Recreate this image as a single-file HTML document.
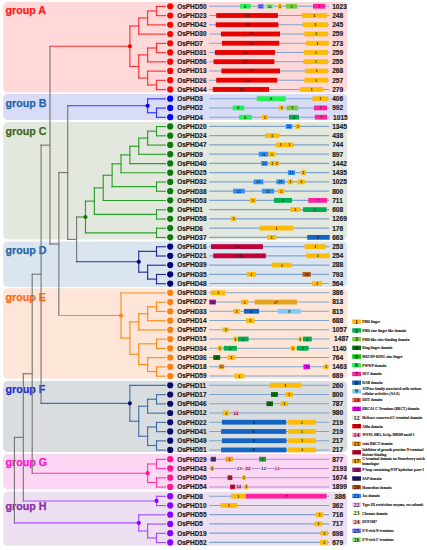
<!DOCTYPE html><html><head><meta charset="utf-8"><style>html,body{margin:0;padding:0;background:#fff;width:427px;height:550px;overflow:hidden}svg{display:block}</style></head><body>
<svg width="427" height="550" viewBox="0 0 427 550">
<rect x="0" y="0" width="427" height="550" fill="#ffffff"/>
<rect x="3.2" y="2.1" width="344.0" height="90.5" rx="4.5" ry="4.5" fill="#ffd9d9"/>
<rect x="3.2" y="93.9" width="344.0" height="26.0" rx="4.5" ry="4.5" fill="#d9dcf7"/>
<rect x="3.2" y="122.1" width="344.0" height="117.4" rx="4.5" ry="4.5" fill="#e3e8df"/>
<rect x="3.2" y="241.4" width="344.0" height="45.5" rx="4.5" ry="4.5" fill="#dbe5f0"/>
<rect x="3.2" y="288.3" width="344.0" height="90.5" rx="4.5" ry="4.5" fill="#fde6d8"/>
<rect x="3.2" y="380.9" width="344.0" height="71.0" rx="4.5" ry="4.5" fill="#d9dde0"/>
<rect x="3.2" y="453.9" width="344.0" height="35.4" rx="4.5" ry="4.5" fill="#fcd7f4"/>
<rect x="3.2" y="491.8" width="344.0" height="54.0" rx="4.5" ry="4.5" fill="#ecdff0"/>
<text x="5.5" y="14.0" font-family="Liberation Sans" font-weight="bold" font-size="10.7" fill="#ff1a1a" stroke="#ff1a1a" stroke-width="0.25">group A</text>
<text x="5.5" y="106.8" font-family="Liberation Sans" font-weight="bold" font-size="10.7" fill="#2464a8" stroke="#2464a8" stroke-width="0.25">group B</text>
<text x="5.5" y="134.7" font-family="Liberation Sans" font-weight="bold" font-size="10.7" fill="#3d6b1f" stroke="#3d6b1f" stroke-width="0.25">group C</text>
<text x="5.5" y="253.7" font-family="Liberation Sans" font-weight="bold" font-size="10.7" fill="#1f68a8" stroke="#1f68a8" stroke-width="0.25">group D</text>
<text x="5.5" y="301.0" font-family="Liberation Sans" font-weight="bold" font-size="10.7" fill="#ff6a14" stroke="#ff6a14" stroke-width="0.25">group E</text>
<text x="5.5" y="393.2" font-family="Liberation Sans" font-weight="bold" font-size="10.7" fill="#1f2fd0" stroke="#1f2fd0" stroke-width="0.25">group F</text>
<text x="5.5" y="466.0" font-family="Liberation Sans" font-weight="bold" font-size="10.7" fill="#ff14cc" stroke="#ff14cc" stroke-width="0.25">group G</text>
<text x="5.5" y="509.8" font-family="Liberation Sans" font-weight="bold" font-size="10.7" fill="#8a2ba6" stroke="#8a2ba6" stroke-width="0.25">group H</text>
<line x1="209.2" y1="6.25" x2="329.2" y2="6.25" stroke="#7fa3cc" stroke-width="1.1"/>
<line x1="209.2" y1="15.49" x2="329.2" y2="15.49" stroke="#7fa3cc" stroke-width="1.1"/>
<line x1="209.2" y1="24.74" x2="329.2" y2="24.74" stroke="#7fa3cc" stroke-width="1.1"/>
<line x1="209.2" y1="33.98" x2="329.2" y2="33.98" stroke="#7fa3cc" stroke-width="1.1"/>
<line x1="209.2" y1="43.23" x2="329.2" y2="43.23" stroke="#7fa3cc" stroke-width="1.1"/>
<line x1="209.2" y1="52.47" x2="329.2" y2="52.47" stroke="#7fa3cc" stroke-width="1.1"/>
<line x1="209.2" y1="61.71" x2="329.2" y2="61.71" stroke="#7fa3cc" stroke-width="1.1"/>
<line x1="209.2" y1="70.96" x2="329.2" y2="70.96" stroke="#7fa3cc" stroke-width="1.1"/>
<line x1="209.2" y1="80.20" x2="329.2" y2="80.20" stroke="#7fa3cc" stroke-width="1.1"/>
<line x1="209.2" y1="89.45" x2="329.2" y2="89.45" stroke="#7fa3cc" stroke-width="1.1"/>
<line x1="209.2" y1="98.69" x2="329.2" y2="98.69" stroke="#7fa3cc" stroke-width="1.1"/>
<line x1="209.2" y1="107.93" x2="329.2" y2="107.93" stroke="#7fa3cc" stroke-width="1.1"/>
<line x1="209.2" y1="117.18" x2="329.2" y2="117.18" stroke="#7fa3cc" stroke-width="1.1"/>
<line x1="209.2" y1="126.42" x2="329.2" y2="126.42" stroke="#7fa3cc" stroke-width="1.1"/>
<line x1="209.2" y1="135.67" x2="329.2" y2="135.67" stroke="#7fa3cc" stroke-width="1.1"/>
<line x1="209.2" y1="144.91" x2="329.2" y2="144.91" stroke="#7fa3cc" stroke-width="1.1"/>
<line x1="209.2" y1="154.15" x2="329.2" y2="154.15" stroke="#7fa3cc" stroke-width="1.1"/>
<line x1="209.2" y1="163.40" x2="329.2" y2="163.40" stroke="#7fa3cc" stroke-width="1.1"/>
<line x1="209.2" y1="172.64" x2="329.2" y2="172.64" stroke="#7fa3cc" stroke-width="1.1"/>
<line x1="209.2" y1="181.89" x2="329.2" y2="181.89" stroke="#7fa3cc" stroke-width="1.1"/>
<line x1="209.2" y1="191.13" x2="329.2" y2="191.13" stroke="#7fa3cc" stroke-width="1.1"/>
<line x1="209.2" y1="200.37" x2="329.2" y2="200.37" stroke="#7fa3cc" stroke-width="1.1"/>
<line x1="209.2" y1="209.62" x2="329.2" y2="209.62" stroke="#7fa3cc" stroke-width="1.1"/>
<line x1="209.2" y1="218.86" x2="329.2" y2="218.86" stroke="#7fa3cc" stroke-width="1.1"/>
<line x1="209.2" y1="228.11" x2="329.2" y2="228.11" stroke="#7fa3cc" stroke-width="1.1"/>
<line x1="209.2" y1="237.35" x2="329.2" y2="237.35" stroke="#7fa3cc" stroke-width="1.1"/>
<line x1="209.2" y1="246.59" x2="329.2" y2="246.59" stroke="#7fa3cc" stroke-width="1.1"/>
<line x1="209.2" y1="255.84" x2="329.2" y2="255.84" stroke="#7fa3cc" stroke-width="1.1"/>
<line x1="209.2" y1="265.08" x2="329.2" y2="265.08" stroke="#7fa3cc" stroke-width="1.1"/>
<line x1="209.2" y1="274.33" x2="329.2" y2="274.33" stroke="#7fa3cc" stroke-width="1.1"/>
<line x1="209.2" y1="283.57" x2="329.2" y2="283.57" stroke="#7fa3cc" stroke-width="1.1"/>
<line x1="209.2" y1="292.81" x2="329.2" y2="292.81" stroke="#7fa3cc" stroke-width="1.1"/>
<line x1="209.2" y1="302.06" x2="329.2" y2="302.06" stroke="#7fa3cc" stroke-width="1.1"/>
<line x1="209.2" y1="311.30" x2="329.2" y2="311.30" stroke="#7fa3cc" stroke-width="1.1"/>
<line x1="209.2" y1="320.55" x2="329.2" y2="320.55" stroke="#7fa3cc" stroke-width="1.1"/>
<line x1="209.2" y1="329.79" x2="329.2" y2="329.79" stroke="#7fa3cc" stroke-width="1.1"/>
<line x1="209.2" y1="339.03" x2="329.2" y2="339.03" stroke="#7fa3cc" stroke-width="1.1"/>
<line x1="209.2" y1="348.28" x2="329.2" y2="348.28" stroke="#7fa3cc" stroke-width="1.1"/>
<line x1="209.2" y1="357.52" x2="329.2" y2="357.52" stroke="#7fa3cc" stroke-width="1.1"/>
<line x1="209.2" y1="366.77" x2="329.2" y2="366.77" stroke="#7fa3cc" stroke-width="1.1"/>
<line x1="209.2" y1="376.01" x2="329.2" y2="376.01" stroke="#7fa3cc" stroke-width="1.1"/>
<line x1="209.2" y1="385.25" x2="329.2" y2="385.25" stroke="#7fa3cc" stroke-width="1.1"/>
<line x1="209.2" y1="394.50" x2="329.2" y2="394.50" stroke="#7fa3cc" stroke-width="1.1"/>
<line x1="209.2" y1="403.74" x2="329.2" y2="403.74" stroke="#7fa3cc" stroke-width="1.1"/>
<line x1="209.2" y1="412.99" x2="329.2" y2="412.99" stroke="#7fa3cc" stroke-width="1.1"/>
<line x1="209.2" y1="422.23" x2="329.2" y2="422.23" stroke="#7fa3cc" stroke-width="1.1"/>
<line x1="209.2" y1="431.47" x2="329.2" y2="431.47" stroke="#7fa3cc" stroke-width="1.1"/>
<line x1="209.2" y1="440.72" x2="329.2" y2="440.72" stroke="#7fa3cc" stroke-width="1.1"/>
<line x1="209.2" y1="449.96" x2="329.2" y2="449.96" stroke="#7fa3cc" stroke-width="1.1"/>
<line x1="209.2" y1="459.21" x2="329.2" y2="459.21" stroke="#b48fd8" stroke-width="1.1"/>
<line x1="209.2" y1="468.45" x2="329.2" y2="468.45" stroke="#b48fd8" stroke-width="1.1"/>
<line x1="209.2" y1="477.69" x2="329.2" y2="477.69" stroke="#b48fd8" stroke-width="1.1"/>
<line x1="209.2" y1="486.94" x2="329.2" y2="486.94" stroke="#b48fd8" stroke-width="1.1"/>
<line x1="209.2" y1="496.18" x2="329.2" y2="496.18" stroke="#7fa3cc" stroke-width="1.1"/>
<line x1="209.2" y1="505.43" x2="329.2" y2="505.43" stroke="#7fa3cc" stroke-width="1.1"/>
<line x1="209.2" y1="514.67" x2="329.2" y2="514.67" stroke="#7fa3cc" stroke-width="1.1"/>
<line x1="209.2" y1="523.91" x2="329.2" y2="523.91" stroke="#7fa3cc" stroke-width="1.1"/>
<line x1="209.2" y1="533.16" x2="329.2" y2="533.16" stroke="#7fa3cc" stroke-width="1.1"/>
<line x1="209.2" y1="542.40" x2="329.2" y2="542.40" stroke="#7fa3cc" stroke-width="1.1"/>
<rect x="240.1" y="3.85" width="10.7" height="4.8" fill="#22f055"/>
<text x="245.4" y="7.76" font-family="Liberation Serif" font-weight="bold" font-size="4.2" text-anchor="middle" fill="#222">6</text>
<rect x="257.7" y="3.85" width="6.1" height="4.8" fill="#8080ff"/>
<text x="260.8" y="7.76" font-family="Liberation Serif" font-weight="bold" font-size="4.2" text-anchor="middle" fill="#222">25</text>
<rect x="265.5" y="3.85" width="8.1" height="4.8" fill="#90ee90"/>
<text x="269.6" y="7.76" font-family="Liberation Serif" font-weight="bold" font-size="4.2" text-anchor="middle" fill="#222">26</text>
<rect x="277.9" y="3.85" width="4.1" height="4.8" fill="#ffbb00"/>
<text x="279.9" y="7.76" font-family="Liberation Serif" font-weight="bold" font-size="4.2" text-anchor="middle" fill="#222">1</text>
<rect x="285.8" y="3.85" width="11.4" height="4.8" fill="#77cc3a"/>
<text x="291.5" y="7.76" font-family="Liberation Serif" font-weight="bold" font-size="4.2" text-anchor="middle" fill="#222">3</text>
<rect x="313.0" y="3.85" width="12.3" height="4.8" fill="#ff22a0"/>
<text x="319.1" y="7.76" font-family="Liberation Serif" font-weight="bold" font-size="4.2" text-anchor="middle" fill="#222">7</text>
<rect x="216.2" y="13.09" width="61.7" height="4.8" fill="#e60000"/>
<text x="247.0" y="17.01" font-family="Liberation Serif" font-weight="bold" font-size="4.2" text-anchor="middle" fill="#222">13</text>
<rect x="301.6" y="13.09" width="25.5" height="4.8" fill="#ffbb00"/>
<text x="314.4" y="17.01" font-family="Liberation Serif" font-weight="bold" font-size="4.2" text-anchor="middle" fill="#222">1</text>
<rect x="215.7" y="22.34" width="62.7" height="4.8" fill="#e60000"/>
<text x="247.0" y="26.25" font-family="Liberation Serif" font-weight="bold" font-size="4.2" text-anchor="middle" fill="#222">13</text>
<rect x="302.7" y="22.34" width="25.2" height="4.8" fill="#ffbb00"/>
<text x="315.3" y="26.25" font-family="Liberation Serif" font-weight="bold" font-size="4.2" text-anchor="middle" fill="#222">1</text>
<rect x="220.9" y="31.58" width="59.1" height="4.8" fill="#e60000"/>
<text x="250.4" y="35.49" font-family="Liberation Serif" font-weight="bold" font-size="4.2" text-anchor="middle" fill="#222">13</text>
<rect x="304.3" y="31.58" width="23.7" height="4.8" fill="#ffbb00"/>
<text x="316.1" y="35.49" font-family="Liberation Serif" font-weight="bold" font-size="4.2" text-anchor="middle" fill="#222">1</text>
<rect x="221.9" y="40.83" width="57.4" height="4.8" fill="#e60000"/>
<text x="250.6" y="44.74" font-family="Liberation Serif" font-weight="bold" font-size="4.2" text-anchor="middle" fill="#222">13</text>
<rect x="306.0" y="40.83" width="22.7" height="4.8" fill="#ffbb00"/>
<text x="317.4" y="44.74" font-family="Liberation Serif" font-weight="bold" font-size="4.2" text-anchor="middle" fill="#222">1</text>
<rect x="214.9" y="50.07" width="60.0" height="4.8" fill="#e60000"/>
<text x="244.9" y="53.98" font-family="Liberation Serif" font-weight="bold" font-size="4.2" text-anchor="middle" fill="#222">13</text>
<rect x="303.9" y="50.07" width="24.1" height="4.8" fill="#ffbb00"/>
<text x="315.9" y="53.98" font-family="Liberation Serif" font-weight="bold" font-size="4.2" text-anchor="middle" fill="#222">1</text>
<rect x="213.6" y="59.31" width="60.8" height="4.8" fill="#e60000"/>
<text x="244.0" y="63.23" font-family="Liberation Serif" font-weight="bold" font-size="4.2" text-anchor="middle" fill="#222">13</text>
<rect x="303.4" y="59.31" width="24.6" height="4.8" fill="#ffbb00"/>
<text x="315.7" y="63.23" font-family="Liberation Serif" font-weight="bold" font-size="4.2" text-anchor="middle" fill="#222">1</text>
<rect x="221.4" y="68.56" width="58.6" height="4.8" fill="#e60000"/>
<text x="250.7" y="72.47" font-family="Liberation Serif" font-weight="bold" font-size="4.2" text-anchor="middle" fill="#222">13</text>
<rect x="305.0" y="68.56" width="23.0" height="4.8" fill="#ffbb00"/>
<text x="316.5" y="72.47" font-family="Liberation Serif" font-weight="bold" font-size="4.2" text-anchor="middle" fill="#222">1</text>
<rect x="216.2" y="77.80" width="61.0" height="4.8" fill="#e60000"/>
<text x="246.7" y="81.71" font-family="Liberation Serif" font-weight="bold" font-size="4.2" text-anchor="middle" fill="#222">13</text>
<rect x="304.3" y="77.80" width="23.7" height="4.8" fill="#ffbb00"/>
<text x="316.1" y="81.71" font-family="Liberation Serif" font-weight="bold" font-size="4.2" text-anchor="middle" fill="#222">1</text>
<rect x="212.8" y="87.05" width="56.2" height="4.8" fill="#e60000"/>
<text x="240.9" y="90.96" font-family="Liberation Serif" font-weight="bold" font-size="4.2" text-anchor="middle" fill="#222">13</text>
<rect x="300.2" y="87.05" width="22.8" height="4.8" fill="#ffbb00"/>
<text x="311.6" y="90.96" font-family="Liberation Serif" font-weight="bold" font-size="4.2" text-anchor="middle" fill="#222">1</text>
<rect x="256.8" y="96.29" width="29.0" height="4.8" fill="#22f055"/>
<text x="271.3" y="100.20" font-family="Liberation Serif" font-weight="bold" font-size="4.2" text-anchor="middle" fill="#222">6</text>
<rect x="312.5" y="96.29" width="15.8" height="4.8" fill="#ffbb00"/>
<text x="320.4" y="100.20" font-family="Liberation Serif" font-weight="bold" font-size="4.2" text-anchor="middle" fill="#222">1</text>
<rect x="232.7" y="105.53" width="11.5" height="4.8" fill="#22f055"/>
<text x="238.4" y="109.45" font-family="Liberation Serif" font-weight="bold" font-size="4.2" text-anchor="middle" fill="#222">6</text>
<rect x="278.8" y="105.53" width="5.3" height="4.8" fill="#ffbb00"/>
<text x="281.5" y="109.45" font-family="Liberation Serif" font-weight="bold" font-size="4.2" text-anchor="middle" fill="#222">1</text>
<rect x="286.7" y="105.53" width="11.4" height="4.8" fill="#77cc3a"/>
<text x="292.4" y="109.45" font-family="Liberation Serif" font-weight="bold" font-size="4.2" text-anchor="middle" fill="#222">3</text>
<rect x="313.9" y="105.53" width="13.2" height="4.8" fill="#ff22a0"/>
<text x="320.5" y="109.45" font-family="Liberation Serif" font-weight="bold" font-size="4.2" text-anchor="middle" fill="#222">7</text>
<rect x="239.2" y="114.78" width="12.5" height="4.8" fill="#22f055"/>
<text x="245.4" y="118.69" font-family="Liberation Serif" font-weight="bold" font-size="4.2" text-anchor="middle" fill="#222">6</text>
<rect x="262.0" y="114.78" width="5.6" height="4.8" fill="#ffbb00"/>
<text x="264.8" y="118.69" font-family="Liberation Serif" font-weight="bold" font-size="4.2" text-anchor="middle" fill="#222">1</text>
<rect x="289.0" y="114.78" width="10.0" height="4.8" fill="#00b050"/>
<text x="294.0" y="118.69" font-family="Liberation Serif" font-weight="bold" font-size="4.2" text-anchor="middle" fill="#222">2</text>
<rect x="314.8" y="114.78" width="12.3" height="4.8" fill="#ff22a0"/>
<text x="321.0" y="118.69" font-family="Liberation Serif" font-weight="bold" font-size="4.2" text-anchor="middle" fill="#222">7</text>
<rect x="285.8" y="124.02" width="6.4" height="4.8" fill="#3090ff"/>
<text x="289.0" y="127.93" font-family="Liberation Serif" font-weight="bold" font-size="4.2" text-anchor="middle" fill="#222">21</text>
<rect x="295.7" y="124.02" width="4.5" height="4.8" fill="#ffbb00"/>
<text x="297.9" y="127.93" font-family="Liberation Serif" font-weight="bold" font-size="4.2" text-anchor="middle" fill="#222">1</text>
<rect x="265.0" y="133.27" width="14.2" height="4.8" fill="#ffbb00"/>
<text x="272.1" y="137.18" font-family="Liberation Serif" font-weight="bold" font-size="4.2" text-anchor="middle" fill="#222">1</text>
<rect x="276.0" y="142.51" width="9.0" height="4.8" fill="#ffbb00"/>
<text x="280.5" y="146.42" font-family="Liberation Serif" font-weight="bold" font-size="4.2" text-anchor="middle" fill="#222">1</text>
<rect x="285.0" y="142.51" width="8.6" height="4.8" fill="#ffbb00"/>
<text x="289.3" y="146.42" font-family="Liberation Serif" font-weight="bold" font-size="4.2" text-anchor="middle" fill="#222">1</text>
<rect x="258.7" y="151.75" width="9.6" height="4.8" fill="#3090ff"/>
<text x="263.5" y="155.67" font-family="Liberation Serif" font-weight="bold" font-size="4.2" text-anchor="middle" fill="#222">21</text>
<rect x="268.3" y="151.75" width="7.0" height="4.8" fill="#ffbb00"/>
<text x="271.8" y="155.67" font-family="Liberation Serif" font-weight="bold" font-size="4.2" text-anchor="middle" fill="#222">1</text>
<rect x="261.2" y="161.00" width="6.6" height="4.8" fill="#3090ff"/>
<text x="264.5" y="164.91" font-family="Liberation Serif" font-weight="bold" font-size="4.2" text-anchor="middle" fill="#222">21</text>
<rect x="270.1" y="161.00" width="4.5" height="4.8" fill="#ffbb00"/>
<text x="272.4" y="164.91" font-family="Liberation Serif" font-weight="bold" font-size="4.2" text-anchor="middle" fill="#222">1</text>
<rect x="274.6" y="161.00" width="4.5" height="4.8" fill="#ffbb00"/>
<text x="276.9" y="164.91" font-family="Liberation Serif" font-weight="bold" font-size="4.2" text-anchor="middle" fill="#222">1</text>
<rect x="287.9" y="170.24" width="7.1" height="4.8" fill="#3090ff"/>
<text x="291.4" y="174.15" font-family="Liberation Serif" font-weight="bold" font-size="4.2" text-anchor="middle" fill="#222">21</text>
<rect x="301.0" y="170.24" width="4.8" height="4.8" fill="#ffbb00"/>
<text x="303.4" y="174.15" font-family="Liberation Serif" font-weight="bold" font-size="4.2" text-anchor="middle" fill="#222">1</text>
<rect x="253.5" y="179.49" width="9.8" height="4.8" fill="#3090ff"/>
<text x="258.4" y="183.40" font-family="Liberation Serif" font-weight="bold" font-size="4.2" text-anchor="middle" fill="#222">21</text>
<rect x="276.4" y="179.49" width="8.4" height="4.8" fill="#3090ff"/>
<text x="280.6" y="183.40" font-family="Liberation Serif" font-weight="bold" font-size="4.2" text-anchor="middle" fill="#222">21</text>
<rect x="287.7" y="179.49" width="5.2" height="4.8" fill="#ffbb00"/>
<text x="290.3" y="183.40" font-family="Liberation Serif" font-weight="bold" font-size="4.2" text-anchor="middle" fill="#222">1</text>
<rect x="297.8" y="179.49" width="7.0" height="4.8" fill="#ffbb00"/>
<text x="301.3" y="183.40" font-family="Liberation Serif" font-weight="bold" font-size="4.2" text-anchor="middle" fill="#222">1</text>
<rect x="233.0" y="188.73" width="11.8" height="4.8" fill="#3090ff"/>
<text x="238.9" y="192.64" font-family="Liberation Serif" font-weight="bold" font-size="4.2" text-anchor="middle" fill="#222">21</text>
<rect x="262.0" y="188.73" width="12.1" height="4.8" fill="#3090ff"/>
<text x="268.1" y="192.64" font-family="Liberation Serif" font-weight="bold" font-size="4.2" text-anchor="middle" fill="#222">21</text>
<rect x="277.9" y="188.73" width="6.5" height="4.8" fill="#ffbb00"/>
<text x="281.1" y="192.64" font-family="Liberation Serif" font-weight="bold" font-size="4.2" text-anchor="middle" fill="#222">1</text>
<rect x="249.9" y="197.97" width="6.1" height="4.8" fill="#ffbb00"/>
<text x="252.9" y="201.89" font-family="Liberation Serif" font-weight="bold" font-size="4.2" text-anchor="middle" fill="#222">1</text>
<rect x="273.9" y="197.97" width="18.1" height="4.8" fill="#00b050"/>
<text x="282.9" y="201.89" font-family="Liberation Serif" font-weight="bold" font-size="4.2" text-anchor="middle" fill="#222">2</text>
<rect x="308.3" y="197.97" width="18.8" height="4.8" fill="#ff22a0"/>
<text x="317.7" y="201.89" font-family="Liberation Serif" font-weight="bold" font-size="4.2" text-anchor="middle" fill="#222">7</text>
<rect x="290.2" y="207.22" width="10.0" height="4.8" fill="#ffbb00"/>
<text x="295.2" y="211.13" font-family="Liberation Serif" font-weight="bold" font-size="4.2" text-anchor="middle" fill="#222">1</text>
<rect x="303.0" y="207.22" width="23.6" height="4.8" fill="#00b050"/>
<text x="314.8" y="211.13" font-family="Liberation Serif" font-weight="bold" font-size="4.2" text-anchor="middle" fill="#222">2</text>
<rect x="230.9" y="216.46" width="5.2" height="4.8" fill="#ffbb00"/>
<text x="233.5" y="220.37" font-family="Liberation Serif" font-weight="bold" font-size="4.2" text-anchor="middle" fill="#222">1</text>
<rect x="259.4" y="225.71" width="34.0" height="4.8" fill="#ffbb00"/>
<text x="276.4" y="229.62" font-family="Liberation Serif" font-weight="bold" font-size="4.2" text-anchor="middle" fill="#222">1</text>
<rect x="267.2" y="234.95" width="8.9" height="4.8" fill="#ffbb00"/>
<text x="271.6" y="238.86" font-family="Liberation Serif" font-weight="bold" font-size="4.2" text-anchor="middle" fill="#222">1</text>
<rect x="307.2" y="234.95" width="22.5" height="4.8" fill="#1464c4"/>
<text x="318.4" y="238.86" font-family="Liberation Serif" font-weight="bold" font-size="4.2" text-anchor="middle" fill="#222">8</text>
<rect x="211.0" y="244.19" width="51.9" height="4.8" fill="#c0003a"/>
<text x="236.9" y="248.11" font-family="Liberation Serif" font-weight="bold" font-size="4.2" text-anchor="middle" fill="#222">16</text>
<rect x="304.6" y="244.19" width="21.3" height="4.8" fill="#ffbb00"/>
<text x="315.2" y="248.11" font-family="Liberation Serif" font-weight="bold" font-size="4.2" text-anchor="middle" fill="#222">1</text>
<rect x="213.3" y="253.44" width="52.5" height="4.8" fill="#c0003a"/>
<text x="239.6" y="257.35" font-family="Liberation Serif" font-weight="bold" font-size="4.2" text-anchor="middle" fill="#222">16</text>
<rect x="306.0" y="253.44" width="23.7" height="4.8" fill="#ffbb00"/>
<text x="317.9" y="257.35" font-family="Liberation Serif" font-weight="bold" font-size="4.2" text-anchor="middle" fill="#222">1</text>
<rect x="272.0" y="262.68" width="19.4" height="4.8" fill="#ffbb00"/>
<text x="281.7" y="266.59" font-family="Liberation Serif" font-weight="bold" font-size="4.2" text-anchor="middle" fill="#222">1</text>
<rect x="246.8" y="271.93" width="9.2" height="4.8" fill="#ffbb00"/>
<text x="251.4" y="275.84" font-family="Liberation Serif" font-weight="bold" font-size="4.2" text-anchor="middle" fill="#222">1</text>
<rect x="302.5" y="271.93" width="8.4" height="4.8" fill="#b86020"/>
<text x="306.7" y="275.84" font-family="Liberation Serif" font-weight="bold" font-size="4.2" text-anchor="middle" fill="#222">20</text>
<rect x="311.8" y="281.17" width="10.4" height="4.8" fill="#ffbb00"/>
<text x="317.0" y="285.08" font-family="Liberation Serif" font-weight="bold" font-size="4.2" text-anchor="middle" fill="#222">1</text>
<rect x="211.0" y="290.41" width="14.2" height="4.8" fill="#ffbb00"/>
<text x="218.1" y="294.33" font-family="Liberation Serif" font-weight="bold" font-size="4.2" text-anchor="middle" fill="#222">1</text>
<rect x="209.3" y="299.66" width="6.6" height="4.8" fill="#981a98"/>
<text x="212.6" y="303.57" font-family="Liberation Serif" font-weight="bold" font-size="4.2" text-anchor="middle" fill="#222">18</text>
<rect x="241.0" y="299.66" width="7.2" height="4.8" fill="#ffbb00"/>
<text x="244.6" y="303.57" font-family="Liberation Serif" font-weight="bold" font-size="4.2" text-anchor="middle" fill="#222">1</text>
<rect x="254.6" y="299.66" width="42.3" height="4.8" fill="#e4a420"/>
<text x="275.8" y="303.57" font-family="Liberation Serif" font-weight="bold" font-size="4.2" text-anchor="middle" fill="#222">17</text>
<rect x="233.2" y="308.90" width="6.9" height="4.8" fill="#ffbb00"/>
<text x="236.6" y="312.81" font-family="Liberation Serif" font-weight="bold" font-size="4.2" text-anchor="middle" fill="#222">1</text>
<rect x="243.9" y="308.90" width="15.2" height="4.8" fill="#1464c4"/>
<text x="251.5" y="312.81" font-family="Liberation Serif" font-weight="bold" font-size="4.2" text-anchor="middle" fill="#222">8</text>
<rect x="277.9" y="308.90" width="22.8" height="4.8" fill="#84c8f6"/>
<text x="289.3" y="312.81" font-family="Liberation Serif" font-weight="bold" font-size="4.2" text-anchor="middle" fill="#222">9</text>
<rect x="246.0" y="318.15" width="8.6" height="4.8" fill="#ffbb00"/>
<text x="250.3" y="322.06" font-family="Liberation Serif" font-weight="bold" font-size="4.2" text-anchor="middle" fill="#222">1</text>
<rect x="222.8" y="327.39" width="5.9" height="4.8" fill="#ffbb00"/>
<text x="225.8" y="331.30" font-family="Liberation Serif" font-weight="bold" font-size="4.2" text-anchor="middle" fill="#222">1</text>
<rect x="233.7" y="336.63" width="3.2" height="4.8" fill="#ffbb00"/>
<text x="235.3" y="340.55" font-family="Liberation Serif" font-weight="bold" font-size="4.2" text-anchor="middle" fill="#222">1</text>
<rect x="237.8" y="336.63" width="10.8" height="4.8" fill="#00b050"/>
<text x="243.2" y="340.55" font-family="Liberation Serif" font-weight="bold" font-size="4.2" text-anchor="middle" fill="#222">2</text>
<rect x="298.6" y="336.63" width="3.0" height="4.8" fill="#ffbb00"/>
<text x="300.1" y="340.55" font-family="Liberation Serif" font-weight="bold" font-size="4.2" text-anchor="middle" fill="#222">1</text>
<rect x="303.0" y="336.63" width="8.8" height="4.8" fill="#00b050"/>
<text x="307.4" y="340.55" font-family="Liberation Serif" font-weight="bold" font-size="4.2" text-anchor="middle" fill="#222">2</text>
<rect x="217.9" y="345.88" width="4.1" height="4.8" fill="#ffbb00"/>
<text x="219.9" y="349.79" font-family="Liberation Serif" font-weight="bold" font-size="4.2" text-anchor="middle" fill="#222">1</text>
<rect x="223.7" y="345.88" width="13.2" height="4.8" fill="#00b050"/>
<text x="230.3" y="349.79" font-family="Liberation Serif" font-weight="bold" font-size="4.2" text-anchor="middle" fill="#222">2</text>
<rect x="290.7" y="345.88" width="4.4" height="4.8" fill="#ffbb00"/>
<text x="292.9" y="349.79" font-family="Liberation Serif" font-weight="bold" font-size="4.2" text-anchor="middle" fill="#222">1</text>
<rect x="296.9" y="345.88" width="11.7" height="4.8" fill="#00b050"/>
<text x="302.8" y="349.79" font-family="Liberation Serif" font-weight="bold" font-size="4.2" text-anchor="middle" fill="#222">2</text>
<rect x="213.2" y="355.12" width="7.0" height="4.8" fill="#046e04"/>
<text x="216.7" y="359.03" font-family="Liberation Serif" font-weight="bold" font-size="4.2" text-anchor="middle" fill="#222">4</text>
<rect x="227.5" y="355.12" width="7.7" height="4.8" fill="#ffbb00"/>
<text x="231.3" y="359.03" font-family="Liberation Serif" font-weight="bold" font-size="4.2" text-anchor="middle" fill="#222">1</text>
<rect x="218.8" y="364.37" width="5.5" height="4.8" fill="#f0a020"/>
<text x="221.6" y="368.28" font-family="Liberation Serif" font-weight="bold" font-size="4.2" text-anchor="middle" fill="#222">15</text>
<rect x="303.4" y="364.37" width="6.6" height="4.8" fill="#f000f0"/>
<text x="306.7" y="368.28" font-family="Liberation Serif" font-weight="bold" font-size="4.2" text-anchor="middle" fill="#222">11</text>
<rect x="323.6" y="364.37" width="4.7" height="4.8" fill="#ffbb00"/>
<text x="326.0" y="368.28" font-family="Liberation Serif" font-weight="bold" font-size="4.2" text-anchor="middle" fill="#222">1</text>
<rect x="234.4" y="373.61" width="10.0" height="4.8" fill="#ffbb00"/>
<text x="239.4" y="377.52" font-family="Liberation Serif" font-weight="bold" font-size="4.2" text-anchor="middle" fill="#222">1</text>
<rect x="269.3" y="382.85" width="31.8" height="4.8" fill="#ffbb00"/>
<text x="285.2" y="386.77" font-family="Liberation Serif" font-weight="bold" font-size="4.2" text-anchor="middle" fill="#222">1</text>
<rect x="271.0" y="392.10" width="6.9" height="4.8" fill="#046e04"/>
<text x="274.4" y="396.01" font-family="Liberation Serif" font-weight="bold" font-size="4.2" text-anchor="middle" fill="#222">4</text>
<rect x="285.3" y="392.10" width="7.5" height="4.8" fill="#ffbb00"/>
<text x="289.1" y="396.01" font-family="Liberation Serif" font-weight="bold" font-size="4.2" text-anchor="middle" fill="#222">1</text>
<rect x="266.4" y="401.34" width="6.6" height="4.8" fill="#046e04"/>
<text x="269.7" y="405.25" font-family="Liberation Serif" font-weight="bold" font-size="4.2" text-anchor="middle" fill="#222">4</text>
<rect x="280.5" y="401.34" width="7.6" height="4.8" fill="#ffbb00"/>
<text x="284.3" y="405.25" font-family="Liberation Serif" font-weight="bold" font-size="4.2" text-anchor="middle" fill="#222">1</text>
<rect x="222.8" y="410.59" width="6.4" height="4.8" fill="#ffbb00"/>
<text x="226.0" y="414.50" font-family="Liberation Serif" font-weight="bold" font-size="4.2" text-anchor="middle" fill="#222">1</text>
<rect x="232.7" y="410.59" width="6.0" height="4.8" fill="#f6a0d8"/>
<text x="235.7" y="414.50" font-family="Liberation Serif" font-weight="bold" font-size="4.2" text-anchor="middle" fill="#222">14</text>
<rect x="221.9" y="419.83" width="64.3" height="4.8" fill="#1464c4"/>
<text x="254.1" y="423.74" font-family="Liberation Serif" font-weight="bold" font-size="4.2" text-anchor="middle" fill="#222">8</text>
<rect x="288.1" y="419.83" width="27.6" height="4.8" fill="#ffbb00"/>
<text x="301.9" y="423.74" font-family="Liberation Serif" font-weight="bold" font-size="4.2" text-anchor="middle" fill="#222">1</text>
<rect x="221.1" y="429.07" width="65.1" height="4.8" fill="#1464c4"/>
<text x="253.6" y="432.99" font-family="Liberation Serif" font-weight="bold" font-size="4.2" text-anchor="middle" fill="#222">8</text>
<rect x="288.1" y="429.07" width="27.6" height="4.8" fill="#ffbb00"/>
<text x="301.9" y="432.99" font-family="Liberation Serif" font-weight="bold" font-size="4.2" text-anchor="middle" fill="#222">1</text>
<rect x="221.9" y="438.32" width="64.6" height="4.8" fill="#1464c4"/>
<text x="254.2" y="442.23" font-family="Liberation Serif" font-weight="bold" font-size="4.2" text-anchor="middle" fill="#222">8</text>
<rect x="288.1" y="438.32" width="27.9" height="4.8" fill="#ffbb00"/>
<text x="302.1" y="442.23" font-family="Liberation Serif" font-weight="bold" font-size="4.2" text-anchor="middle" fill="#222">1</text>
<rect x="221.1" y="447.56" width="65.4" height="4.8" fill="#1464c4"/>
<text x="253.8" y="451.47" font-family="Liberation Serif" font-weight="bold" font-size="4.2" text-anchor="middle" fill="#222">8</text>
<rect x="288.1" y="447.56" width="27.9" height="4.8" fill="#ffbb00"/>
<text x="302.1" y="451.47" font-family="Liberation Serif" font-weight="bold" font-size="4.2" text-anchor="middle" fill="#222">1</text>
<rect x="210.7" y="456.81" width="5.2" height="4.8" fill="#4a3494"/>
<text x="213.3" y="460.72" font-family="Liberation Serif" font-weight="bold" font-size="4.2" text-anchor="middle" fill="#222">19</text>
<rect x="225.4" y="456.81" width="7.6" height="4.8" fill="#f5a21c"/>
<text x="229.2" y="460.72" font-family="Liberation Serif" font-weight="bold" font-size="4.2" text-anchor="middle" fill="#222">1</text>
<rect x="259.1" y="456.81" width="6.9" height="4.8" fill="#18a030"/>
<text x="262.6" y="460.72" font-family="Liberation Serif" font-weight="bold" font-size="4.2" text-anchor="middle" fill="#222">5</text>
<rect x="210.7" y="466.05" width="2.9" height="4.8" fill="#f5a21c"/>
<text x="212.1" y="469.96" font-family="Liberation Serif" font-weight="bold" font-size="4.2" text-anchor="middle" fill="#222">1</text>
<rect x="236.5" y="466.05" width="5.5" height="4.8" fill="#fde0f0"/>
<text x="239.2" y="470.25" font-family="Liberation Serif" font-weight="bold" font-size="5.0" text-anchor="middle" fill="#222">23</text>
<rect x="243.9" y="466.05" width="7.8" height="4.8" fill="#f6c2ee"/>
<text x="247.8" y="470.25" font-family="Liberation Serif" font-weight="bold" font-size="5.0" text-anchor="middle" fill="#222">22</text>
<rect x="260.3" y="466.05" width="6.1" height="4.8" fill="#e4e2f6"/>
<text x="263.4" y="470.25" font-family="Liberation Serif" font-weight="bold" font-size="5.0" text-anchor="middle" fill="#222">12</text>
<rect x="274.4" y="466.05" width="5.3" height="4.8" fill="#fcc8e4"/>
<text x="277.0" y="470.25" font-family="Liberation Serif" font-weight="bold" font-size="5.0" text-anchor="middle" fill="#c03030">24</text>
<rect x="227.5" y="475.29" width="4.8" height="4.8" fill="#cc1a4a"/>
<text x="229.9" y="479.21" font-family="Liberation Serif" font-weight="bold" font-size="4.2" text-anchor="middle" fill="#222">16</text>
<rect x="242.2" y="475.29" width="3.4" height="4.8" fill="#ffbb00"/>
<text x="243.9" y="479.21" font-family="Liberation Serif" font-weight="bold" font-size="4.2" text-anchor="middle" fill="#222">1</text>
<rect x="230.0" y="484.54" width="5.2" height="4.8" fill="#cc1a4a"/>
<text x="232.6" y="488.45" font-family="Liberation Serif" font-weight="bold" font-size="4.2" text-anchor="middle" fill="#222">16</text>
<rect x="236.1" y="484.54" width="5.2" height="4.8" fill="#f6a0d8"/>
<text x="238.7" y="488.45" font-family="Liberation Serif" font-weight="bold" font-size="4.2" text-anchor="middle" fill="#222">14</text>
<rect x="244.4" y="484.54" width="3.5" height="4.8" fill="#ffbb00"/>
<text x="246.2" y="488.45" font-family="Liberation Serif" font-weight="bold" font-size="4.2" text-anchor="middle" fill="#222">1</text>
<rect x="230.9" y="493.78" width="15.1" height="4.8" fill="#ffbb00"/>
<text x="238.4" y="497.69" font-family="Liberation Serif" font-weight="bold" font-size="4.2" text-anchor="middle" fill="#222">1</text>
<rect x="246.0" y="493.78" width="80.6" height="4.8" fill="#ff22a0"/>
<text x="286.3" y="497.69" font-family="Liberation Serif" font-weight="bold" font-size="4.2" text-anchor="middle" fill="#222">7</text>
<rect x="220.6" y="503.03" width="16.7" height="4.8" fill="#ffbb00"/>
<text x="228.9" y="506.94" font-family="Liberation Serif" font-weight="bold" font-size="4.2" text-anchor="middle" fill="#222">1</text>
<rect x="316.0" y="512.27" width="7.0" height="4.8" fill="#ffbb00"/>
<text x="319.5" y="516.18" font-family="Liberation Serif" font-weight="bold" font-size="4.2" text-anchor="middle" fill="#222">1</text>
<rect x="314.4" y="521.51" width="7.9" height="4.8" fill="#ffbb00"/>
<text x="318.4" y="525.43" font-family="Liberation Serif" font-weight="bold" font-size="4.2" text-anchor="middle" fill="#222">1</text>
<rect x="320.4" y="530.76" width="7.6" height="4.8" fill="#ffbb00"/>
<text x="324.2" y="534.67" font-family="Liberation Serif" font-weight="bold" font-size="4.2" text-anchor="middle" fill="#222">1</text>
<rect x="320.0" y="540.00" width="8.0" height="4.8" fill="#ffbb00"/>
<text x="324.0" y="543.91" font-family="Liberation Serif" font-weight="bold" font-size="4.2" text-anchor="middle" fill="#222">1</text>
<g stroke-linecap="square">
<line x1="156.52" y1="6.40" x2="156.52" y2="15.64" stroke="#ff3030" stroke-width="1.15"/>
<line x1="156.52" y1="6.40" x2="165.40" y2="6.40" stroke="#ff3030" stroke-width="1.15"/>
<line x1="156.52" y1="15.64" x2="165.40" y2="15.64" stroke="#ff3030" stroke-width="1.15"/>
<line x1="147.64" y1="11.02" x2="147.64" y2="24.89" stroke="#ff3030" stroke-width="1.15"/>
<line x1="147.64" y1="11.02" x2="156.52" y2="11.02" stroke="#ff3030" stroke-width="1.15"/>
<line x1="147.64" y1="24.89" x2="165.40" y2="24.89" stroke="#ff3030" stroke-width="1.15"/>
<line x1="138.76" y1="17.95" x2="138.76" y2="34.13" stroke="#ff3030" stroke-width="1.15"/>
<line x1="138.76" y1="17.95" x2="147.64" y2="17.95" stroke="#ff3030" stroke-width="1.15"/>
<line x1="138.76" y1="34.13" x2="165.40" y2="34.13" stroke="#ff3030" stroke-width="1.15"/>
<line x1="156.52" y1="43.38" x2="156.52" y2="52.62" stroke="#ff3030" stroke-width="1.15"/>
<line x1="156.52" y1="43.38" x2="165.40" y2="43.38" stroke="#ff3030" stroke-width="1.15"/>
<line x1="156.52" y1="52.62" x2="165.40" y2="52.62" stroke="#ff3030" stroke-width="1.15"/>
<line x1="147.64" y1="48.00" x2="147.64" y2="61.86" stroke="#ff3030" stroke-width="1.15"/>
<line x1="147.64" y1="48.00" x2="156.52" y2="48.00" stroke="#ff3030" stroke-width="1.15"/>
<line x1="147.64" y1="61.86" x2="165.40" y2="61.86" stroke="#ff3030" stroke-width="1.15"/>
<line x1="156.52" y1="80.35" x2="156.52" y2="89.60" stroke="#ff3030" stroke-width="1.15"/>
<line x1="156.52" y1="80.35" x2="165.40" y2="80.35" stroke="#ff3030" stroke-width="1.15"/>
<line x1="156.52" y1="89.60" x2="165.40" y2="89.60" stroke="#ff3030" stroke-width="1.15"/>
<line x1="147.64" y1="71.11" x2="147.64" y2="84.97" stroke="#ff3030" stroke-width="1.15"/>
<line x1="147.64" y1="71.11" x2="165.40" y2="71.11" stroke="#ff3030" stroke-width="1.15"/>
<line x1="147.64" y1="84.97" x2="156.52" y2="84.97" stroke="#ff3030" stroke-width="1.15"/>
<line x1="138.76" y1="54.93" x2="138.76" y2="78.04" stroke="#ff3030" stroke-width="1.15"/>
<line x1="138.76" y1="54.93" x2="147.64" y2="54.93" stroke="#ff3030" stroke-width="1.15"/>
<line x1="138.76" y1="78.04" x2="147.64" y2="78.04" stroke="#ff3030" stroke-width="1.15"/>
<line x1="129.88" y1="26.04" x2="129.88" y2="66.49" stroke="#ff3030" stroke-width="1.15"/>
<line x1="129.88" y1="26.04" x2="138.76" y2="26.04" stroke="#ff3030" stroke-width="1.15"/>
<line x1="129.88" y1="66.49" x2="138.76" y2="66.49" stroke="#ff3030" stroke-width="1.15"/>
<line x1="156.52" y1="108.08" x2="156.52" y2="117.33" stroke="#3333ff" stroke-width="1.15"/>
<line x1="156.52" y1="108.08" x2="165.40" y2="108.08" stroke="#3333ff" stroke-width="1.15"/>
<line x1="156.52" y1="117.33" x2="165.40" y2="117.33" stroke="#3333ff" stroke-width="1.15"/>
<line x1="147.64" y1="98.84" x2="147.64" y2="112.71" stroke="#3333ff" stroke-width="1.15"/>
<line x1="147.64" y1="98.84" x2="165.40" y2="98.84" stroke="#3333ff" stroke-width="1.15"/>
<line x1="147.64" y1="112.71" x2="156.52" y2="112.71" stroke="#3333ff" stroke-width="1.15"/>
<line x1="156.52" y1="126.57" x2="156.52" y2="135.82" stroke="#2ca02c" stroke-width="1.15"/>
<line x1="156.52" y1="126.57" x2="165.40" y2="126.57" stroke="#2ca02c" stroke-width="1.15"/>
<line x1="156.52" y1="135.82" x2="165.40" y2="135.82" stroke="#2ca02c" stroke-width="1.15"/>
<line x1="147.64" y1="131.19" x2="147.64" y2="145.06" stroke="#2ca02c" stroke-width="1.15"/>
<line x1="147.64" y1="131.19" x2="156.52" y2="131.19" stroke="#2ca02c" stroke-width="1.15"/>
<line x1="147.64" y1="145.06" x2="165.40" y2="145.06" stroke="#2ca02c" stroke-width="1.15"/>
<line x1="138.76" y1="138.13" x2="138.76" y2="154.30" stroke="#2ca02c" stroke-width="1.15"/>
<line x1="138.76" y1="138.13" x2="147.64" y2="138.13" stroke="#2ca02c" stroke-width="1.15"/>
<line x1="138.76" y1="154.30" x2="165.40" y2="154.30" stroke="#2ca02c" stroke-width="1.15"/>
<line x1="129.88" y1="146.22" x2="129.88" y2="163.55" stroke="#2ca02c" stroke-width="1.15"/>
<line x1="129.88" y1="146.22" x2="138.76" y2="146.22" stroke="#2ca02c" stroke-width="1.15"/>
<line x1="129.88" y1="163.55" x2="165.40" y2="163.55" stroke="#2ca02c" stroke-width="1.15"/>
<line x1="121.00" y1="154.88" x2="121.00" y2="172.79" stroke="#2ca02c" stroke-width="1.15"/>
<line x1="121.00" y1="154.88" x2="129.88" y2="154.88" stroke="#2ca02c" stroke-width="1.15"/>
<line x1="121.00" y1="172.79" x2="165.40" y2="172.79" stroke="#2ca02c" stroke-width="1.15"/>
<line x1="156.52" y1="182.04" x2="156.52" y2="191.28" stroke="#2ca02c" stroke-width="1.15"/>
<line x1="156.52" y1="182.04" x2="165.40" y2="182.04" stroke="#2ca02c" stroke-width="1.15"/>
<line x1="156.52" y1="191.28" x2="165.40" y2="191.28" stroke="#2ca02c" stroke-width="1.15"/>
<line x1="112.12" y1="163.84" x2="112.12" y2="186.66" stroke="#2ca02c" stroke-width="1.15"/>
<line x1="112.12" y1="163.84" x2="121.00" y2="163.84" stroke="#2ca02c" stroke-width="1.15"/>
<line x1="112.12" y1="186.66" x2="156.52" y2="186.66" stroke="#2ca02c" stroke-width="1.15"/>
<line x1="103.24" y1="175.25" x2="103.24" y2="200.52" stroke="#2ca02c" stroke-width="1.15"/>
<line x1="103.24" y1="175.25" x2="112.12" y2="175.25" stroke="#2ca02c" stroke-width="1.15"/>
<line x1="103.24" y1="200.52" x2="165.40" y2="200.52" stroke="#2ca02c" stroke-width="1.15"/>
<line x1="156.52" y1="209.77" x2="156.52" y2="219.01" stroke="#2ca02c" stroke-width="1.15"/>
<line x1="156.52" y1="209.77" x2="165.40" y2="209.77" stroke="#2ca02c" stroke-width="1.15"/>
<line x1="156.52" y1="219.01" x2="165.40" y2="219.01" stroke="#2ca02c" stroke-width="1.15"/>
<line x1="94.36" y1="187.89" x2="94.36" y2="214.39" stroke="#2ca02c" stroke-width="1.15"/>
<line x1="94.36" y1="187.89" x2="103.24" y2="187.89" stroke="#2ca02c" stroke-width="1.15"/>
<line x1="94.36" y1="214.39" x2="156.52" y2="214.39" stroke="#2ca02c" stroke-width="1.15"/>
<line x1="156.52" y1="228.26" x2="156.52" y2="237.50" stroke="#2ca02c" stroke-width="1.15"/>
<line x1="156.52" y1="228.26" x2="165.40" y2="228.26" stroke="#2ca02c" stroke-width="1.15"/>
<line x1="156.52" y1="237.50" x2="165.40" y2="237.50" stroke="#2ca02c" stroke-width="1.15"/>
<line x1="85.48" y1="201.14" x2="85.48" y2="232.88" stroke="#2ca02c" stroke-width="1.15"/>
<line x1="85.48" y1="201.14" x2="94.36" y2="201.14" stroke="#2ca02c" stroke-width="1.15"/>
<line x1="85.48" y1="232.88" x2="156.52" y2="232.88" stroke="#2ca02c" stroke-width="1.15"/>
<line x1="156.52" y1="246.74" x2="156.52" y2="255.99" stroke="#2e2ea0" stroke-width="1.15"/>
<line x1="156.52" y1="246.74" x2="165.40" y2="246.74" stroke="#2e2ea0" stroke-width="1.15"/>
<line x1="156.52" y1="255.99" x2="165.40" y2="255.99" stroke="#2e2ea0" stroke-width="1.15"/>
<line x1="156.52" y1="274.48" x2="156.52" y2="283.72" stroke="#2e2ea0" stroke-width="1.15"/>
<line x1="156.52" y1="274.48" x2="165.40" y2="274.48" stroke="#2e2ea0" stroke-width="1.15"/>
<line x1="156.52" y1="283.72" x2="165.40" y2="283.72" stroke="#2e2ea0" stroke-width="1.15"/>
<line x1="147.64" y1="265.23" x2="147.64" y2="279.10" stroke="#2e2ea0" stroke-width="1.15"/>
<line x1="147.64" y1="265.23" x2="165.40" y2="265.23" stroke="#2e2ea0" stroke-width="1.15"/>
<line x1="147.64" y1="279.10" x2="156.52" y2="279.10" stroke="#2e2ea0" stroke-width="1.15"/>
<line x1="138.76" y1="251.37" x2="138.76" y2="272.16" stroke="#2e2ea0" stroke-width="1.15"/>
<line x1="138.76" y1="251.37" x2="156.52" y2="251.37" stroke="#2e2ea0" stroke-width="1.15"/>
<line x1="138.76" y1="272.16" x2="147.64" y2="272.16" stroke="#2e2ea0" stroke-width="1.15"/>
<line x1="156.52" y1="302.21" x2="156.52" y2="311.45" stroke="#ff8c1a" stroke-width="1.15"/>
<line x1="156.52" y1="302.21" x2="165.40" y2="302.21" stroke="#ff8c1a" stroke-width="1.15"/>
<line x1="156.52" y1="311.45" x2="165.40" y2="311.45" stroke="#ff8c1a" stroke-width="1.15"/>
<line x1="147.64" y1="306.83" x2="147.64" y2="320.70" stroke="#ff8c1a" stroke-width="1.15"/>
<line x1="147.64" y1="306.83" x2="156.52" y2="306.83" stroke="#ff8c1a" stroke-width="1.15"/>
<line x1="147.64" y1="320.70" x2="165.40" y2="320.70" stroke="#ff8c1a" stroke-width="1.15"/>
<line x1="138.76" y1="313.76" x2="138.76" y2="329.94" stroke="#ff8c1a" stroke-width="1.15"/>
<line x1="138.76" y1="313.76" x2="147.64" y2="313.76" stroke="#ff8c1a" stroke-width="1.15"/>
<line x1="138.76" y1="329.94" x2="165.40" y2="329.94" stroke="#ff8c1a" stroke-width="1.15"/>
<line x1="156.52" y1="339.18" x2="156.52" y2="348.43" stroke="#ff8c1a" stroke-width="1.15"/>
<line x1="156.52" y1="339.18" x2="165.40" y2="339.18" stroke="#ff8c1a" stroke-width="1.15"/>
<line x1="156.52" y1="348.43" x2="165.40" y2="348.43" stroke="#ff8c1a" stroke-width="1.15"/>
<line x1="156.52" y1="366.92" x2="156.52" y2="376.16" stroke="#ff8c1a" stroke-width="1.15"/>
<line x1="156.52" y1="366.92" x2="165.40" y2="366.92" stroke="#ff8c1a" stroke-width="1.15"/>
<line x1="156.52" y1="376.16" x2="165.40" y2="376.16" stroke="#ff8c1a" stroke-width="1.15"/>
<line x1="147.64" y1="357.67" x2="147.64" y2="371.54" stroke="#ff8c1a" stroke-width="1.15"/>
<line x1="147.64" y1="357.67" x2="165.40" y2="357.67" stroke="#ff8c1a" stroke-width="1.15"/>
<line x1="147.64" y1="371.54" x2="156.52" y2="371.54" stroke="#ff8c1a" stroke-width="1.15"/>
<line x1="138.76" y1="343.81" x2="138.76" y2="364.60" stroke="#ff8c1a" stroke-width="1.15"/>
<line x1="138.76" y1="343.81" x2="156.52" y2="343.81" stroke="#ff8c1a" stroke-width="1.15"/>
<line x1="138.76" y1="364.60" x2="147.64" y2="364.60" stroke="#ff8c1a" stroke-width="1.15"/>
<line x1="129.88" y1="321.85" x2="129.88" y2="354.21" stroke="#ff8c1a" stroke-width="1.15"/>
<line x1="129.88" y1="321.85" x2="138.76" y2="321.85" stroke="#ff8c1a" stroke-width="1.15"/>
<line x1="129.88" y1="354.21" x2="138.76" y2="354.21" stroke="#ff8c1a" stroke-width="1.15"/>
<line x1="121.00" y1="292.96" x2="121.00" y2="338.03" stroke="#ff8c1a" stroke-width="1.15"/>
<line x1="121.00" y1="292.96" x2="165.40" y2="292.96" stroke="#ff8c1a" stroke-width="1.15"/>
<line x1="121.00" y1="338.03" x2="129.88" y2="338.03" stroke="#ff8c1a" stroke-width="1.15"/>
<line x1="156.52" y1="394.65" x2="156.52" y2="403.89" stroke="#3f72aa" stroke-width="1.15"/>
<line x1="156.52" y1="394.65" x2="165.40" y2="394.65" stroke="#3f72aa" stroke-width="1.15"/>
<line x1="156.52" y1="403.89" x2="165.40" y2="403.89" stroke="#3f72aa" stroke-width="1.15"/>
<line x1="147.64" y1="399.27" x2="147.64" y2="413.14" stroke="#3f72aa" stroke-width="1.15"/>
<line x1="147.64" y1="399.27" x2="156.52" y2="399.27" stroke="#3f72aa" stroke-width="1.15"/>
<line x1="147.64" y1="413.14" x2="165.40" y2="413.14" stroke="#3f72aa" stroke-width="1.15"/>
<line x1="156.52" y1="422.38" x2="156.52" y2="431.62" stroke="#3f72aa" stroke-width="1.15"/>
<line x1="156.52" y1="422.38" x2="165.40" y2="422.38" stroke="#3f72aa" stroke-width="1.15"/>
<line x1="156.52" y1="431.62" x2="165.40" y2="431.62" stroke="#3f72aa" stroke-width="1.15"/>
<line x1="156.52" y1="440.87" x2="156.52" y2="450.11" stroke="#3f72aa" stroke-width="1.15"/>
<line x1="156.52" y1="440.87" x2="165.40" y2="440.87" stroke="#3f72aa" stroke-width="1.15"/>
<line x1="156.52" y1="450.11" x2="165.40" y2="450.11" stroke="#3f72aa" stroke-width="1.15"/>
<line x1="147.64" y1="427.00" x2="147.64" y2="445.49" stroke="#3f72aa" stroke-width="1.15"/>
<line x1="147.64" y1="427.00" x2="156.52" y2="427.00" stroke="#3f72aa" stroke-width="1.15"/>
<line x1="147.64" y1="445.49" x2="156.52" y2="445.49" stroke="#3f72aa" stroke-width="1.15"/>
<line x1="138.76" y1="406.20" x2="138.76" y2="436.25" stroke="#3f72aa" stroke-width="1.15"/>
<line x1="138.76" y1="406.20" x2="147.64" y2="406.20" stroke="#3f72aa" stroke-width="1.15"/>
<line x1="138.76" y1="436.25" x2="147.64" y2="436.25" stroke="#3f72aa" stroke-width="1.15"/>
<line x1="129.88" y1="385.40" x2="129.88" y2="421.22" stroke="#3f72aa" stroke-width="1.15"/>
<line x1="129.88" y1="385.40" x2="165.40" y2="385.40" stroke="#3f72aa" stroke-width="1.15"/>
<line x1="129.88" y1="421.22" x2="138.76" y2="421.22" stroke="#3f72aa" stroke-width="1.15"/>
<line x1="156.52" y1="459.36" x2="156.52" y2="468.60" stroke="#ff3aa6" stroke-width="1.15"/>
<line x1="156.52" y1="459.36" x2="165.40" y2="459.36" stroke="#ff3aa6" stroke-width="1.15"/>
<line x1="156.52" y1="468.60" x2="165.40" y2="468.60" stroke="#ff3aa6" stroke-width="1.15"/>
<line x1="156.52" y1="477.84" x2="156.52" y2="487.09" stroke="#ff3aa6" stroke-width="1.15"/>
<line x1="156.52" y1="477.84" x2="165.40" y2="477.84" stroke="#ff3aa6" stroke-width="1.15"/>
<line x1="156.52" y1="487.09" x2="165.40" y2="487.09" stroke="#ff3aa6" stroke-width="1.15"/>
<line x1="147.64" y1="463.98" x2="147.64" y2="482.47" stroke="#ff3aa6" stroke-width="1.15"/>
<line x1="147.64" y1="463.98" x2="156.52" y2="463.98" stroke="#ff3aa6" stroke-width="1.15"/>
<line x1="147.64" y1="482.47" x2="156.52" y2="482.47" stroke="#ff3aa6" stroke-width="1.15"/>
<line x1="156.52" y1="496.33" x2="156.52" y2="505.58" stroke="#a64dff" stroke-width="1.15"/>
<line x1="156.52" y1="496.33" x2="165.40" y2="496.33" stroke="#a64dff" stroke-width="1.15"/>
<line x1="156.52" y1="505.58" x2="165.40" y2="505.58" stroke="#a64dff" stroke-width="1.15"/>
<line x1="156.52" y1="533.31" x2="156.52" y2="542.55" stroke="#a64dff" stroke-width="1.15"/>
<line x1="156.52" y1="533.31" x2="165.40" y2="533.31" stroke="#a64dff" stroke-width="1.15"/>
<line x1="156.52" y1="542.55" x2="165.40" y2="542.55" stroke="#a64dff" stroke-width="1.15"/>
<line x1="147.64" y1="524.06" x2="147.64" y2="537.93" stroke="#a64dff" stroke-width="1.15"/>
<line x1="147.64" y1="524.06" x2="165.40" y2="524.06" stroke="#a64dff" stroke-width="1.15"/>
<line x1="147.64" y1="537.93" x2="156.52" y2="537.93" stroke="#a64dff" stroke-width="1.15"/>
<line x1="138.76" y1="514.82" x2="138.76" y2="531.00" stroke="#a64dff" stroke-width="1.15"/>
<line x1="138.76" y1="514.82" x2="165.40" y2="514.82" stroke="#a64dff" stroke-width="1.15"/>
<line x1="138.76" y1="531.00" x2="147.64" y2="531.00" stroke="#a64dff" stroke-width="1.15"/>
<line x1="76.60" y1="217.01" x2="76.60" y2="261.77" stroke="#787878" stroke-width="1.15"/>
<line x1="76.60" y1="217.01" x2="85.48" y2="217.01" stroke="#2ca02c" stroke-width="1.15"/>
<line x1="76.60" y1="261.77" x2="138.76" y2="261.77" stroke="#2e2ea0" stroke-width="1.15"/>
<line x1="67.72" y1="105.77" x2="67.72" y2="239.39" stroke="#787878" stroke-width="1.15"/>
<line x1="67.72" y1="105.77" x2="147.64" y2="105.77" stroke="#3333ff" stroke-width="1.15"/>
<line x1="67.72" y1="239.39" x2="76.60" y2="239.39" stroke="#787878" stroke-width="1.15"/>
<line x1="58.84" y1="172.58" x2="58.84" y2="315.50" stroke="#787878" stroke-width="1.15"/>
<line x1="58.84" y1="172.58" x2="67.72" y2="172.58" stroke="#787878" stroke-width="1.15"/>
<line x1="58.84" y1="315.50" x2="121.00" y2="315.50" stroke="#ff8c1a" stroke-width="1.15"/>
<line x1="49.96" y1="46.26" x2="49.96" y2="244.04" stroke="#787878" stroke-width="1.15"/>
<line x1="49.96" y1="46.26" x2="129.88" y2="46.26" stroke="#ff3030" stroke-width="1.15"/>
<line x1="49.96" y1="244.04" x2="58.84" y2="244.04" stroke="#787878" stroke-width="1.15"/>
<line x1="41.08" y1="145.15" x2="41.08" y2="403.31" stroke="#787878" stroke-width="1.15"/>
<line x1="41.08" y1="145.15" x2="49.96" y2="145.15" stroke="#787878" stroke-width="1.15"/>
<line x1="41.08" y1="403.31" x2="129.88" y2="403.31" stroke="#3f72aa" stroke-width="1.15"/>
<line x1="32.20" y1="274.23" x2="32.20" y2="473.22" stroke="#787878" stroke-width="1.15"/>
<line x1="32.20" y1="274.23" x2="41.08" y2="274.23" stroke="#787878" stroke-width="1.15"/>
<line x1="32.20" y1="473.22" x2="147.64" y2="473.22" stroke="#ff3aa6" stroke-width="1.15"/>
<line x1="23.32" y1="373.73" x2="23.32" y2="500.95" stroke="#787878" stroke-width="1.15"/>
<line x1="23.32" y1="373.73" x2="32.20" y2="373.73" stroke="#787878" stroke-width="1.15"/>
<line x1="23.32" y1="500.95" x2="156.52" y2="500.95" stroke="#a64dff" stroke-width="1.15"/>
<line x1="14.44" y1="437.34" x2="14.44" y2="522.91" stroke="#787878" stroke-width="1.15"/>
<line x1="14.44" y1="437.34" x2="23.32" y2="437.34" stroke="#787878" stroke-width="1.15"/>
<line x1="14.44" y1="522.91" x2="138.76" y2="522.91" stroke="#a64dff" stroke-width="1.15"/>
</g>
<circle cx="129.88" cy="46.26" r="2.1" fill="#ff0000"/>
<circle cx="147.64" cy="105.77" r="2.1" fill="#0000ff"/>
<circle cx="85.48" cy="217.01" r="2.1" fill="#0a7a0a"/>
<circle cx="138.76" cy="261.77" r="2.1" fill="#000080"/>
<circle cx="121.00" cy="315.50" r="2.1" fill="#ff7f0e"/>
<circle cx="129.88" cy="403.31" r="2.1" fill="#0a0a6e"/>
<circle cx="147.64" cy="473.22" r="2.1" fill="#ff1493"/>
<circle cx="156.52" cy="500.95" r="2.1" fill="#8b00ff"/>
<circle cx="138.76" cy="522.91" r="2.1" fill="#8b00ff"/>
<circle cx="170.2" cy="6.25" r="3.1" fill="#ff0000"/>
<circle cx="170.2" cy="15.49" r="3.1" fill="#ff0000"/>
<circle cx="170.2" cy="24.74" r="3.1" fill="#ff0000"/>
<circle cx="170.2" cy="33.98" r="3.1" fill="#ff0000"/>
<circle cx="170.2" cy="43.23" r="3.1" fill="#ff0000"/>
<circle cx="170.2" cy="52.47" r="3.1" fill="#ff0000"/>
<circle cx="170.2" cy="61.71" r="3.1" fill="#ff0000"/>
<circle cx="170.2" cy="70.96" r="3.1" fill="#ff0000"/>
<circle cx="170.2" cy="80.20" r="3.1" fill="#ff0000"/>
<circle cx="170.2" cy="89.45" r="3.1" fill="#ff0000"/>
<circle cx="170.2" cy="98.69" r="3.1" fill="#0000ff"/>
<circle cx="170.2" cy="107.93" r="3.1" fill="#0000ff"/>
<circle cx="170.2" cy="117.18" r="3.1" fill="#0000ff"/>
<circle cx="170.2" cy="126.42" r="3.1" fill="#0a7a0a"/>
<circle cx="170.2" cy="135.67" r="3.1" fill="#0a7a0a"/>
<circle cx="170.2" cy="144.91" r="3.1" fill="#0a7a0a"/>
<circle cx="170.2" cy="154.15" r="3.1" fill="#0a7a0a"/>
<circle cx="170.2" cy="163.40" r="3.1" fill="#0a7a0a"/>
<circle cx="170.2" cy="172.64" r="3.1" fill="#0a7a0a"/>
<circle cx="170.2" cy="181.89" r="3.1" fill="#0a7a0a"/>
<circle cx="170.2" cy="191.13" r="3.1" fill="#0a7a0a"/>
<circle cx="170.2" cy="200.37" r="3.1" fill="#0a7a0a"/>
<circle cx="170.2" cy="209.62" r="3.1" fill="#0a7a0a"/>
<circle cx="170.2" cy="218.86" r="3.1" fill="#0a7a0a"/>
<circle cx="170.2" cy="228.11" r="3.1" fill="#0a7a0a"/>
<circle cx="170.2" cy="237.35" r="3.1" fill="#0a7a0a"/>
<circle cx="170.2" cy="246.59" r="3.1" fill="#000080"/>
<circle cx="170.2" cy="255.84" r="3.1" fill="#000080"/>
<circle cx="170.2" cy="265.08" r="3.1" fill="#000080"/>
<circle cx="170.2" cy="274.33" r="3.1" fill="#000080"/>
<circle cx="170.2" cy="283.57" r="3.1" fill="#000080"/>
<circle cx="170.2" cy="292.81" r="3.1" fill="#ff7f0e"/>
<circle cx="170.2" cy="302.06" r="3.1" fill="#ff7f0e"/>
<circle cx="170.2" cy="311.30" r="3.1" fill="#ff7f0e"/>
<circle cx="170.2" cy="320.55" r="3.1" fill="#ff7f0e"/>
<circle cx="170.2" cy="329.79" r="3.1" fill="#ff7f0e"/>
<circle cx="170.2" cy="339.03" r="3.1" fill="#ff7f0e"/>
<circle cx="170.2" cy="348.28" r="3.1" fill="#ff7f0e"/>
<circle cx="170.2" cy="357.52" r="3.1" fill="#ff7f0e"/>
<circle cx="170.2" cy="366.77" r="3.1" fill="#ff7f0e"/>
<circle cx="170.2" cy="376.01" r="3.1" fill="#ff7f0e"/>
<circle cx="170.2" cy="385.25" r="3.1" fill="#0a0a6e"/>
<circle cx="170.2" cy="394.50" r="3.1" fill="#0a0a6e"/>
<circle cx="170.2" cy="403.74" r="3.1" fill="#0a0a6e"/>
<circle cx="170.2" cy="412.99" r="3.1" fill="#0a0a6e"/>
<circle cx="170.2" cy="422.23" r="3.1" fill="#0a0a6e"/>
<circle cx="170.2" cy="431.47" r="3.1" fill="#0a0a6e"/>
<circle cx="170.2" cy="440.72" r="3.1" fill="#0a0a6e"/>
<circle cx="170.2" cy="449.96" r="3.1" fill="#0a0a6e"/>
<circle cx="170.2" cy="459.21" r="3.1" fill="#ff1493"/>
<circle cx="170.2" cy="468.45" r="3.1" fill="#ff1493"/>
<circle cx="170.2" cy="477.69" r="3.1" fill="#ff1493"/>
<circle cx="170.2" cy="486.94" r="3.1" fill="#ff1493"/>
<circle cx="170.2" cy="496.18" r="3.1" fill="#8b00ff"/>
<circle cx="170.2" cy="505.43" r="3.1" fill="#8b00ff"/>
<circle cx="170.2" cy="514.67" r="3.1" fill="#8b00ff"/>
<circle cx="170.2" cy="523.91" r="3.1" fill="#8b00ff"/>
<circle cx="170.2" cy="533.16" r="3.1" fill="#8b00ff"/>
<circle cx="170.2" cy="542.40" r="3.1" fill="#8b00ff"/>
<text x="177.2" y="8.65" font-family="Liberation Sans" font-weight="bold" font-size="6.45" fill="#1e1e1e" stroke="#1e1e1e" stroke-width="0.18">OsPHD50</text>
<text x="332.2" y="8.65" font-family="Liberation Sans" font-weight="bold" font-size="6.6" fill="#1e1e1e" stroke="#1e1e1e" stroke-width="0.18">1023</text>
<text x="177.2" y="17.89" font-family="Liberation Sans" font-weight="bold" font-size="6.45" fill="#1e1e1e" stroke="#1e1e1e" stroke-width="0.18">OsPHD23</text>
<text x="332.2" y="17.89" font-family="Liberation Sans" font-weight="bold" font-size="6.6" fill="#1e1e1e" stroke="#1e1e1e" stroke-width="0.18">248</text>
<text x="177.2" y="27.14" font-family="Liberation Sans" font-weight="bold" font-size="6.45" fill="#1e1e1e" stroke="#1e1e1e" stroke-width="0.18">OsPHD42</text>
<text x="332.2" y="27.14" font-family="Liberation Sans" font-weight="bold" font-size="6.6" fill="#1e1e1e" stroke="#1e1e1e" stroke-width="0.18">245</text>
<text x="177.2" y="36.38" font-family="Liberation Sans" font-weight="bold" font-size="6.45" fill="#1e1e1e" stroke="#1e1e1e" stroke-width="0.18">OsPHD30</text>
<text x="332.2" y="36.38" font-family="Liberation Sans" font-weight="bold" font-size="6.6" fill="#1e1e1e" stroke="#1e1e1e" stroke-width="0.18">259</text>
<text x="177.2" y="45.63" font-family="Liberation Sans" font-weight="bold" font-size="6.45" fill="#1e1e1e" stroke="#1e1e1e" stroke-width="0.18">OsPHD7</text>
<text x="332.2" y="45.63" font-family="Liberation Sans" font-weight="bold" font-size="6.6" fill="#1e1e1e" stroke="#1e1e1e" stroke-width="0.18">273</text>
<text x="177.2" y="54.87" font-family="Liberation Sans" font-weight="bold" font-size="6.45" fill="#1e1e1e" stroke="#1e1e1e" stroke-width="0.18">OsPHD31</text>
<text x="332.2" y="54.87" font-family="Liberation Sans" font-weight="bold" font-size="6.6" fill="#1e1e1e" stroke="#1e1e1e" stroke-width="0.18">259</text>
<text x="177.2" y="64.11" font-family="Liberation Sans" font-weight="bold" font-size="6.45" fill="#1e1e1e" stroke="#1e1e1e" stroke-width="0.18">OsPHD56</text>
<text x="332.2" y="64.11" font-family="Liberation Sans" font-weight="bold" font-size="6.6" fill="#1e1e1e" stroke="#1e1e1e" stroke-width="0.18">255</text>
<text x="177.2" y="73.36" font-family="Liberation Sans" font-weight="bold" font-size="6.45" fill="#1e1e1e" stroke="#1e1e1e" stroke-width="0.18">OsPHD13</text>
<text x="332.2" y="73.36" font-family="Liberation Sans" font-weight="bold" font-size="6.6" fill="#1e1e1e" stroke="#1e1e1e" stroke-width="0.18">268</text>
<text x="177.2" y="82.60" font-family="Liberation Sans" font-weight="bold" font-size="6.45" fill="#1e1e1e" stroke="#1e1e1e" stroke-width="0.18">OsPHD26</text>
<text x="332.2" y="82.60" font-family="Liberation Sans" font-weight="bold" font-size="6.6" fill="#1e1e1e" stroke="#1e1e1e" stroke-width="0.18">257</text>
<text x="177.2" y="91.85" font-family="Liberation Sans" font-weight="bold" font-size="6.45" fill="#1e1e1e" stroke="#1e1e1e" stroke-width="0.18">OsPHD44</text>
<text x="332.2" y="91.85" font-family="Liberation Sans" font-weight="bold" font-size="6.6" fill="#1e1e1e" stroke="#1e1e1e" stroke-width="0.18">279</text>
<text x="177.2" y="101.09" font-family="Liberation Sans" font-weight="bold" font-size="6.45" fill="#1e1e1e" stroke="#1e1e1e" stroke-width="0.18">OsPHD3</text>
<text x="332.2" y="101.09" font-family="Liberation Sans" font-weight="bold" font-size="6.6" fill="#1e1e1e" stroke="#1e1e1e" stroke-width="0.18">406</text>
<text x="177.2" y="110.33" font-family="Liberation Sans" font-weight="bold" font-size="6.45" fill="#1e1e1e" stroke="#1e1e1e" stroke-width="0.18">OsPHD2</text>
<text x="332.2" y="110.33" font-family="Liberation Sans" font-weight="bold" font-size="6.6" fill="#1e1e1e" stroke="#1e1e1e" stroke-width="0.18">992</text>
<text x="177.2" y="119.58" font-family="Liberation Sans" font-weight="bold" font-size="6.45" fill="#1e1e1e" stroke="#1e1e1e" stroke-width="0.18">OsPHD4</text>
<text x="333.1" y="119.58" font-family="Liberation Sans" font-weight="bold" font-size="6.6" fill="#1e1e1e" stroke="#1e1e1e" stroke-width="0.18">1015</text>
<text x="177.2" y="128.82" font-family="Liberation Sans" font-weight="bold" font-size="6.45" fill="#1e1e1e" stroke="#1e1e1e" stroke-width="0.18">OsPHD20</text>
<text x="332.2" y="128.82" font-family="Liberation Sans" font-weight="bold" font-size="6.6" fill="#1e1e1e" stroke="#1e1e1e" stroke-width="0.18">1345</text>
<text x="177.2" y="138.07" font-family="Liberation Sans" font-weight="bold" font-size="6.45" fill="#1e1e1e" stroke="#1e1e1e" stroke-width="0.18">OsPHD24</text>
<text x="332.2" y="138.07" font-family="Liberation Sans" font-weight="bold" font-size="6.6" fill="#1e1e1e" stroke="#1e1e1e" stroke-width="0.18">438</text>
<text x="177.2" y="147.31" font-family="Liberation Sans" font-weight="bold" font-size="6.45" fill="#1e1e1e" stroke="#1e1e1e" stroke-width="0.18">OsPHD47</text>
<text x="332.2" y="147.31" font-family="Liberation Sans" font-weight="bold" font-size="6.6" fill="#1e1e1e" stroke="#1e1e1e" stroke-width="0.18">744</text>
<text x="177.2" y="156.55" font-family="Liberation Sans" font-weight="bold" font-size="6.45" fill="#1e1e1e" stroke="#1e1e1e" stroke-width="0.18">OsPHD9</text>
<text x="332.2" y="156.55" font-family="Liberation Sans" font-weight="bold" font-size="6.6" fill="#1e1e1e" stroke="#1e1e1e" stroke-width="0.18">897</text>
<text x="177.2" y="165.80" font-family="Liberation Sans" font-weight="bold" font-size="6.45" fill="#1e1e1e" stroke="#1e1e1e" stroke-width="0.18">OsPHD40</text>
<text x="332.2" y="165.80" font-family="Liberation Sans" font-weight="bold" font-size="6.6" fill="#1e1e1e" stroke="#1e1e1e" stroke-width="0.18">1442</text>
<text x="177.2" y="175.04" font-family="Liberation Sans" font-weight="bold" font-size="6.45" fill="#1e1e1e" stroke="#1e1e1e" stroke-width="0.18">OsPHD25</text>
<text x="332.2" y="175.04" font-family="Liberation Sans" font-weight="bold" font-size="6.6" fill="#1e1e1e" stroke="#1e1e1e" stroke-width="0.18">1435</text>
<text x="177.2" y="184.29" font-family="Liberation Sans" font-weight="bold" font-size="6.45" fill="#1e1e1e" stroke="#1e1e1e" stroke-width="0.18">OsPHD32</text>
<text x="332.2" y="184.29" font-family="Liberation Sans" font-weight="bold" font-size="6.6" fill="#1e1e1e" stroke="#1e1e1e" stroke-width="0.18">1025</text>
<text x="177.2" y="193.53" font-family="Liberation Sans" font-weight="bold" font-size="6.45" fill="#1e1e1e" stroke="#1e1e1e" stroke-width="0.18">OsPHD38</text>
<text x="332.2" y="193.53" font-family="Liberation Sans" font-weight="bold" font-size="6.6" fill="#1e1e1e" stroke="#1e1e1e" stroke-width="0.18">800</text>
<text x="177.2" y="202.77" font-family="Liberation Sans" font-weight="bold" font-size="6.45" fill="#1e1e1e" stroke="#1e1e1e" stroke-width="0.18">OsPHD53</text>
<text x="332.2" y="202.77" font-family="Liberation Sans" font-weight="bold" font-size="6.6" fill="#1e1e1e" stroke="#1e1e1e" stroke-width="0.18">711</text>
<text x="177.2" y="212.02" font-family="Liberation Sans" font-weight="bold" font-size="6.45" fill="#1e1e1e" stroke="#1e1e1e" stroke-width="0.18">OsPHD1</text>
<text x="332.2" y="212.02" font-family="Liberation Sans" font-weight="bold" font-size="6.6" fill="#1e1e1e" stroke="#1e1e1e" stroke-width="0.18">608</text>
<text x="177.2" y="221.26" font-family="Liberation Sans" font-weight="bold" font-size="6.45" fill="#1e1e1e" stroke="#1e1e1e" stroke-width="0.18">OsPHD58</text>
<text x="332.2" y="221.26" font-family="Liberation Sans" font-weight="bold" font-size="6.6" fill="#1e1e1e" stroke="#1e1e1e" stroke-width="0.18">1269</text>
<text x="177.2" y="230.51" font-family="Liberation Sans" font-weight="bold" font-size="6.45" fill="#1e1e1e" stroke="#1e1e1e" stroke-width="0.18">OsPHD6</text>
<text x="332.2" y="230.51" font-family="Liberation Sans" font-weight="bold" font-size="6.6" fill="#1e1e1e" stroke="#1e1e1e" stroke-width="0.18">176</text>
<text x="177.2" y="239.75" font-family="Liberation Sans" font-weight="bold" font-size="6.45" fill="#1e1e1e" stroke="#1e1e1e" stroke-width="0.18">OsPHD37</text>
<text x="332.2" y="239.75" font-family="Liberation Sans" font-weight="bold" font-size="6.6" fill="#1e1e1e" stroke="#1e1e1e" stroke-width="0.18">663</text>
<text x="177.2" y="248.99" font-family="Liberation Sans" font-weight="bold" font-size="6.45" fill="#1e1e1e" stroke="#1e1e1e" stroke-width="0.18">OsPHD16</text>
<text x="332.2" y="248.99" font-family="Liberation Sans" font-weight="bold" font-size="6.6" fill="#1e1e1e" stroke="#1e1e1e" stroke-width="0.18">253</text>
<text x="177.2" y="258.24" font-family="Liberation Sans" font-weight="bold" font-size="6.45" fill="#1e1e1e" stroke="#1e1e1e" stroke-width="0.18">OsPHD21</text>
<text x="332.2" y="258.24" font-family="Liberation Sans" font-weight="bold" font-size="6.6" fill="#1e1e1e" stroke="#1e1e1e" stroke-width="0.18">254</text>
<text x="177.2" y="267.48" font-family="Liberation Sans" font-weight="bold" font-size="6.45" fill="#1e1e1e" stroke="#1e1e1e" stroke-width="0.18">OsPHD39</text>
<text x="332.2" y="267.48" font-family="Liberation Sans" font-weight="bold" font-size="6.6" fill="#1e1e1e" stroke="#1e1e1e" stroke-width="0.18">288</text>
<text x="177.2" y="276.73" font-family="Liberation Sans" font-weight="bold" font-size="6.45" fill="#1e1e1e" stroke="#1e1e1e" stroke-width="0.18">OsPHD35</text>
<text x="332.2" y="276.73" font-family="Liberation Sans" font-weight="bold" font-size="6.6" fill="#1e1e1e" stroke="#1e1e1e" stroke-width="0.18">793</text>
<text x="177.2" y="285.97" font-family="Liberation Sans" font-weight="bold" font-size="6.45" fill="#1e1e1e" stroke="#1e1e1e" stroke-width="0.18">OsPHD48</text>
<text x="332.2" y="285.97" font-family="Liberation Sans" font-weight="bold" font-size="6.6" fill="#1e1e1e" stroke="#1e1e1e" stroke-width="0.18">564</text>
<text x="177.2" y="295.21" font-family="Liberation Sans" font-weight="bold" font-size="6.45" fill="#1e1e1e" stroke="#1e1e1e" stroke-width="0.18">OsPHD28</text>
<text x="332.2" y="295.21" font-family="Liberation Sans" font-weight="bold" font-size="6.6" fill="#1e1e1e" stroke="#1e1e1e" stroke-width="0.18">386</text>
<text x="177.2" y="304.46" font-family="Liberation Sans" font-weight="bold" font-size="6.45" fill="#1e1e1e" stroke="#1e1e1e" stroke-width="0.18">OsPHD27</text>
<text x="332.2" y="304.46" font-family="Liberation Sans" font-weight="bold" font-size="6.6" fill="#1e1e1e" stroke="#1e1e1e" stroke-width="0.18">813</text>
<text x="177.2" y="313.70" font-family="Liberation Sans" font-weight="bold" font-size="6.45" fill="#1e1e1e" stroke="#1e1e1e" stroke-width="0.18">OsPHD33</text>
<text x="332.2" y="313.70" font-family="Liberation Sans" font-weight="bold" font-size="6.6" fill="#1e1e1e" stroke="#1e1e1e" stroke-width="0.18">815</text>
<text x="177.2" y="322.95" font-family="Liberation Sans" font-weight="bold" font-size="6.45" fill="#1e1e1e" stroke="#1e1e1e" stroke-width="0.18">OsPHD14</text>
<text x="332.2" y="322.95" font-family="Liberation Sans" font-weight="bold" font-size="6.6" fill="#1e1e1e" stroke="#1e1e1e" stroke-width="0.18">688</text>
<text x="177.2" y="332.19" font-family="Liberation Sans" font-weight="bold" font-size="6.45" fill="#1e1e1e" stroke="#1e1e1e" stroke-width="0.18">OsPHD57</text>
<text x="332.2" y="332.19" font-family="Liberation Sans" font-weight="bold" font-size="6.6" fill="#1e1e1e" stroke="#1e1e1e" stroke-width="0.18">1057</text>
<text x="177.2" y="341.43" font-family="Liberation Sans" font-weight="bold" font-size="6.45" fill="#1e1e1e" stroke="#1e1e1e" stroke-width="0.18">OsPHD15</text>
<text x="334.1" y="341.43" font-family="Liberation Sans" font-weight="bold" font-size="6.6" fill="#1e1e1e" stroke="#1e1e1e" stroke-width="0.18">1487</text>
<text x="177.2" y="350.68" font-family="Liberation Sans" font-weight="bold" font-size="6.45" fill="#1e1e1e" stroke="#1e1e1e" stroke-width="0.18">OsPHD34</text>
<text x="332.2" y="350.68" font-family="Liberation Sans" font-weight="bold" font-size="6.6" fill="#1e1e1e" stroke="#1e1e1e" stroke-width="0.18">1140</text>
<text x="177.2" y="359.92" font-family="Liberation Sans" font-weight="bold" font-size="6.45" fill="#1e1e1e" stroke="#1e1e1e" stroke-width="0.18">OsPHD36</text>
<text x="332.2" y="359.92" font-family="Liberation Sans" font-weight="bold" font-size="6.6" fill="#1e1e1e" stroke="#1e1e1e" stroke-width="0.18">764</text>
<text x="177.2" y="369.17" font-family="Liberation Sans" font-weight="bold" font-size="6.45" fill="#1e1e1e" stroke="#1e1e1e" stroke-width="0.18">OsPHD18</text>
<text x="332.2" y="369.17" font-family="Liberation Sans" font-weight="bold" font-size="6.6" fill="#1e1e1e" stroke="#1e1e1e" stroke-width="0.18">1463</text>
<text x="177.2" y="378.41" font-family="Liberation Sans" font-weight="bold" font-size="6.45" fill="#1e1e1e" stroke="#1e1e1e" stroke-width="0.18">OsPHD59</text>
<text x="332.2" y="378.41" font-family="Liberation Sans" font-weight="bold" font-size="6.6" fill="#1e1e1e" stroke="#1e1e1e" stroke-width="0.18">689</text>
<text x="177.2" y="387.65" font-family="Liberation Sans" font-weight="bold" font-size="6.45" fill="#1e1e1e" stroke="#1e1e1e" stroke-width="0.18">OsPHD11</text>
<text x="332.2" y="387.65" font-family="Liberation Sans" font-weight="bold" font-size="6.6" fill="#1e1e1e" stroke="#1e1e1e" stroke-width="0.18">260</text>
<text x="177.2" y="396.90" font-family="Liberation Sans" font-weight="bold" font-size="6.45" fill="#1e1e1e" stroke="#1e1e1e" stroke-width="0.18">OsPHD17</text>
<text x="332.2" y="396.90" font-family="Liberation Sans" font-weight="bold" font-size="6.6" fill="#1e1e1e" stroke="#1e1e1e" stroke-width="0.18">800</text>
<text x="177.2" y="406.14" font-family="Liberation Sans" font-weight="bold" font-size="6.45" fill="#1e1e1e" stroke="#1e1e1e" stroke-width="0.18">OsPHD46</text>
<text x="332.2" y="406.14" font-family="Liberation Sans" font-weight="bold" font-size="6.6" fill="#1e1e1e" stroke="#1e1e1e" stroke-width="0.18">787</text>
<text x="177.2" y="415.39" font-family="Liberation Sans" font-weight="bold" font-size="6.45" fill="#1e1e1e" stroke="#1e1e1e" stroke-width="0.18">OsPHD12</text>
<text x="332.2" y="415.39" font-family="Liberation Sans" font-weight="bold" font-size="6.6" fill="#1e1e1e" stroke="#1e1e1e" stroke-width="0.18">980</text>
<text x="177.2" y="424.63" font-family="Liberation Sans" font-weight="bold" font-size="6.45" fill="#1e1e1e" stroke="#1e1e1e" stroke-width="0.18">OsPHD22</text>
<text x="332.2" y="424.63" font-family="Liberation Sans" font-weight="bold" font-size="6.6" fill="#1e1e1e" stroke="#1e1e1e" stroke-width="0.18">219</text>
<text x="177.2" y="433.87" font-family="Liberation Sans" font-weight="bold" font-size="6.45" fill="#1e1e1e" stroke="#1e1e1e" stroke-width="0.18">OsPHD41</text>
<text x="332.2" y="433.87" font-family="Liberation Sans" font-weight="bold" font-size="6.6" fill="#1e1e1e" stroke="#1e1e1e" stroke-width="0.18">219</text>
<text x="177.2" y="443.12" font-family="Liberation Sans" font-weight="bold" font-size="6.45" fill="#1e1e1e" stroke="#1e1e1e" stroke-width="0.18">OsPHD49</text>
<text x="332.2" y="443.12" font-family="Liberation Sans" font-weight="bold" font-size="6.6" fill="#1e1e1e" stroke="#1e1e1e" stroke-width="0.18">217</text>
<text x="177.2" y="452.36" font-family="Liberation Sans" font-weight="bold" font-size="6.45" fill="#1e1e1e" stroke="#1e1e1e" stroke-width="0.18">OsPHD51</text>
<text x="332.2" y="452.36" font-family="Liberation Sans" font-weight="bold" font-size="6.6" fill="#1e1e1e" stroke="#1e1e1e" stroke-width="0.18">217</text>
<text x="177.2" y="461.61" font-family="Liberation Sans" font-weight="bold" font-size="6.45" fill="#1e1e1e" stroke="#1e1e1e" stroke-width="0.18">OsPHD29</text>
<text x="332.2" y="461.61" font-family="Liberation Sans" font-weight="bold" font-size="6.6" fill="#1e1e1e" stroke="#1e1e1e" stroke-width="0.18">877</text>
<text x="177.2" y="470.85" font-family="Liberation Sans" font-weight="bold" font-size="6.45" fill="#1e1e1e" stroke="#1e1e1e" stroke-width="0.18">OsPHD43</text>
<text x="332.2" y="470.85" font-family="Liberation Sans" font-weight="bold" font-size="6.6" fill="#1e1e1e" stroke="#1e1e1e" stroke-width="0.18">2193</text>
<text x="177.2" y="480.09" font-family="Liberation Sans" font-weight="bold" font-size="6.45" fill="#1e1e1e" stroke="#1e1e1e" stroke-width="0.18">OsPHD45</text>
<text x="332.2" y="480.09" font-family="Liberation Sans" font-weight="bold" font-size="6.6" fill="#1e1e1e" stroke="#1e1e1e" stroke-width="0.18">1674</text>
<text x="177.2" y="489.34" font-family="Liberation Sans" font-weight="bold" font-size="6.45" fill="#1e1e1e" stroke="#1e1e1e" stroke-width="0.18">OsPHD54</text>
<text x="332.2" y="489.34" font-family="Liberation Sans" font-weight="bold" font-size="6.6" fill="#1e1e1e" stroke="#1e1e1e" stroke-width="0.18">1899</text>
<text x="177.2" y="498.58" font-family="Liberation Sans" font-weight="bold" font-size="6.45" fill="#1e1e1e" stroke="#1e1e1e" stroke-width="0.18">OsPHD8</text>
<text x="334.6" y="498.58" font-family="Liberation Sans" font-weight="bold" font-size="6.6" fill="#1e1e1e" stroke="#1e1e1e" stroke-width="0.18">386</text>
<text x="177.2" y="507.83" font-family="Liberation Sans" font-weight="bold" font-size="6.45" fill="#1e1e1e" stroke="#1e1e1e" stroke-width="0.18">OsPHD10</text>
<text x="332.2" y="507.83" font-family="Liberation Sans" font-weight="bold" font-size="6.6" fill="#1e1e1e" stroke="#1e1e1e" stroke-width="0.18">362</text>
<text x="177.2" y="517.07" font-family="Liberation Sans" font-weight="bold" font-size="6.45" fill="#1e1e1e" stroke="#1e1e1e" stroke-width="0.18">OsPHD55</text>
<text x="332.2" y="517.07" font-family="Liberation Sans" font-weight="bold" font-size="6.6" fill="#1e1e1e" stroke="#1e1e1e" stroke-width="0.18">716</text>
<text x="177.2" y="526.31" font-family="Liberation Sans" font-weight="bold" font-size="6.45" fill="#1e1e1e" stroke="#1e1e1e" stroke-width="0.18">OsPHD5</text>
<text x="332.2" y="526.31" font-family="Liberation Sans" font-weight="bold" font-size="6.6" fill="#1e1e1e" stroke="#1e1e1e" stroke-width="0.18">717</text>
<text x="177.2" y="535.56" font-family="Liberation Sans" font-weight="bold" font-size="6.45" fill="#1e1e1e" stroke="#1e1e1e" stroke-width="0.18">OsPHD19</text>
<text x="332.2" y="535.56" font-family="Liberation Sans" font-weight="bold" font-size="6.6" fill="#1e1e1e" stroke="#1e1e1e" stroke-width="0.18">698</text>
<text x="177.2" y="544.80" font-family="Liberation Sans" font-weight="bold" font-size="6.45" fill="#1e1e1e" stroke="#1e1e1e" stroke-width="0.18">OsPHD52</text>
<text x="332.2" y="544.80" font-family="Liberation Sans" font-weight="bold" font-size="6.6" fill="#1e1e1e" stroke="#1e1e1e" stroke-width="0.18">679</text>
<rect x="352.2" y="319.50" width="8.8" height="4.4" fill="#ffbb00"/>
<text x="356.6" y="323.80" font-family="Liberation Serif" font-weight="bold" font-size="6" text-anchor="middle" fill="#1a1a1a">1</text>
<text transform="translate(362.3 323.10) scale(0.88 1)" font-family="Liberation Serif" font-weight="bold" font-size="4.1" fill="#151515" stroke="#151515" stroke-width="0.12">PHD finger</text>
<rect x="352.2" y="328.21" width="8.8" height="4.4" fill="#00b050"/>
<text x="356.6" y="332.51" font-family="Liberation Serif" font-weight="bold" font-size="6" text-anchor="middle" fill="#1a1a1a">2</text>
<text transform="translate(362.3 331.81) scale(0.88 1)" font-family="Liberation Serif" font-weight="bold" font-size="4.1" fill="#151515" stroke="#151515" stroke-width="0.12">PHD zinc finger like domain</text>
<rect x="352.2" y="336.92" width="8.8" height="4.4" fill="#77cc3a"/>
<text x="356.6" y="341.22" font-family="Liberation Serif" font-weight="bold" font-size="6" text-anchor="middle" fill="#1a1a1a">3</text>
<text transform="translate(362.3 340.52) scale(0.88 1)" font-family="Liberation Serif" font-weight="bold" font-size="4.1" fill="#151515" stroke="#151515" stroke-width="0.12">PHD-like zinc-binding domain</text>
<rect x="352.2" y="345.63" width="8.8" height="4.4" fill="#046e04"/>
<text x="356.6" y="349.93" font-family="Liberation Serif" font-weight="bold" font-size="6" text-anchor="middle" fill="#1a1a1a">4</text>
<text transform="translate(362.3 349.23) scale(0.88 1)" font-family="Liberation Serif" font-weight="bold" font-size="4.1" fill="#151515" stroke="#151515" stroke-width="0.12">Ring finger domain</text>
<rect x="352.2" y="354.34" width="8.8" height="4.4" fill="#00c800"/>
<text x="356.6" y="358.64" font-family="Liberation Serif" font-weight="bold" font-size="6" text-anchor="middle" fill="#1a1a1a">5</text>
<text transform="translate(362.3 357.94) scale(0.88 1)" font-family="Liberation Serif" font-weight="bold" font-size="4.1" fill="#151515" stroke="#151515" stroke-width="0.12">MIZ/SP-RING zinc finger</text>
<rect x="352.2" y="363.05" width="8.8" height="4.4" fill="#22f055"/>
<text x="356.6" y="367.35" font-family="Liberation Serif" font-weight="bold" font-size="6" text-anchor="middle" fill="#1a1a1a">6</text>
<text transform="translate(362.3 366.65) scale(0.88 1)" font-family="Liberation Serif" font-weight="bold" font-size="4.1" fill="#151515" stroke="#151515" stroke-width="0.12">PWWP domain</text>
<rect x="352.2" y="371.76" width="8.8" height="4.4" fill="#ff22a0"/>
<text x="356.6" y="376.06" font-family="Liberation Serif" font-weight="bold" font-size="6" text-anchor="middle" fill="#1a1a1a">7</text>
<text transform="translate(362.3 375.36) scale(0.88 1)" font-family="Liberation Serif" font-weight="bold" font-size="4.1" fill="#151515" stroke="#151515" stroke-width="0.12">SET domain</text>
<rect x="352.2" y="380.47" width="8.8" height="4.4" fill="#1464c4"/>
<text x="356.6" y="384.77" font-family="Liberation Serif" font-weight="bold" font-size="6" text-anchor="middle" fill="#1a1a1a">8</text>
<text transform="translate(362.3 384.07) scale(0.88 1)" font-family="Liberation Serif" font-weight="bold" font-size="4.1" fill="#151515" stroke="#151515" stroke-width="0.12">RAB domain</text>
<rect x="352.2" y="389.18" width="8.8" height="4.4" fill="#84c8f6"/>
<text x="356.6" y="393.48" font-family="Liberation Serif" font-weight="bold" font-size="6" text-anchor="middle" fill="#1a1a1a">9</text>
<text transform="translate(362.3 390.48) scale(0.88 1)" font-family="Liberation Serif" font-weight="bold" font-size="4.1" fill="#151515" stroke="#151515" stroke-width="0.12">ATPase family associated with various</text>
<text transform="translate(362.3 394.88) scale(0.88 1)" font-family="Liberation Serif" font-weight="bold" font-size="4.1" fill="#151515" stroke="#151515" stroke-width="0.12">cellular activities (AAA)</text>
<rect x="352.2" y="397.89" width="8.8" height="4.4" fill="#f07878"/>
<text x="356.6" y="402.19" font-family="Liberation Serif" font-weight="bold" font-size="6" text-anchor="middle" fill="#1a1a1a">10</text>
<text transform="translate(362.3 401.49) scale(0.88 1)" font-family="Liberation Serif" font-weight="bold" font-size="4.1" fill="#151515" stroke="#151515" stroke-width="0.12">DDT domain</text>
<rect x="352.2" y="406.60" width="8.8" height="4.4" fill="#f000f0"/>
<text x="356.6" y="410.90" font-family="Liberation Serif" font-weight="bold" font-size="6" text-anchor="middle" fill="#1a1a1a">11</text>
<text transform="translate(362.3 410.20) scale(0.88 1)" font-family="Liberation Serif" font-weight="bold" font-size="4.1" fill="#151515" stroke="#151515" stroke-width="0.12">BRCA1 C Terminus (BRCT) domain</text>
<rect x="352.2" y="415.31" width="8.8" height="4.4" fill="#d8eef8"/>
<text x="356.6" y="419.61" font-family="Liberation Serif" font-weight="bold" font-size="6" text-anchor="middle" fill="#1a1a1a">12</text>
<text transform="translate(362.3 418.91) scale(0.88 1)" font-family="Liberation Serif" font-weight="bold" font-size="4.1" fill="#151515" stroke="#151515" stroke-width="0.12">Helicase conserved C-terminal domain</text>
<rect x="352.2" y="424.02" width="8.8" height="4.4" fill="#e60000"/>
<text x="356.6" y="428.32" font-family="Liberation Serif" font-weight="bold" font-size="6" text-anchor="middle" fill="#1a1a1a">13</text>
<text transform="translate(362.3 427.62) scale(0.88 1)" font-family="Liberation Serif" font-weight="bold" font-size="4.1" fill="#151515" stroke="#151515" stroke-width="0.12">Alfin domain</text>
<rect x="352.2" y="432.73" width="8.8" height="4.4" fill="#f6a0d8"/>
<text x="356.6" y="437.03" font-family="Liberation Serif" font-weight="bold" font-size="6" text-anchor="middle" fill="#1a1a1a">14</text>
<text transform="translate(362.3 436.33) scale(0.88 1)" font-family="Liberation Serif" font-weight="bold" font-size="4.1" fill="#151515" stroke="#151515" stroke-width="0.12">WSTF, HB1, Itc1p, MBD9 motif 1</text>
<rect x="352.2" y="441.44" width="8.8" height="4.4" fill="#f0a020"/>
<text x="356.6" y="445.74" font-family="Liberation Serif" font-weight="bold" font-size="6" text-anchor="middle" fill="#1a1a1a">15</text>
<text transform="translate(362.3 445.04) scale(0.88 1)" font-family="Liberation Serif" font-weight="bold" font-size="4.1" fill="#151515" stroke="#151515" stroke-width="0.12">twin BRCT domain</text>
<rect x="352.2" y="450.15" width="8.8" height="4.4" fill="#c0003a"/>
<text x="356.6" y="454.45" font-family="Liberation Serif" font-weight="bold" font-size="6" text-anchor="middle" fill="#1a1a1a">16</text>
<text transform="translate(362.3 451.45) scale(0.88 1)" font-family="Liberation Serif" font-weight="bold" font-size="4.1" fill="#151515" stroke="#151515" stroke-width="0.12">Inhibitor of growth proteins N-terminal</text>
<text transform="translate(362.3 455.85) scale(0.88 1)" font-family="Liberation Serif" font-weight="bold" font-size="4.1" fill="#151515" stroke="#151515" stroke-width="0.12">histone-binding</text>
<rect x="352.2" y="458.86" width="8.8" height="4.4" fill="#e4a420"/>
<text x="356.6" y="463.16" font-family="Liberation Serif" font-weight="bold" font-size="6" text-anchor="middle" fill="#1a1a1a">17</text>
<text transform="translate(362.3 460.16) scale(0.88 1)" font-family="Liberation Serif" font-weight="bold" font-size="4.1" fill="#151515" stroke="#151515" stroke-width="0.12">C-terminal domain on Strawberry notch</text>
<text transform="translate(362.3 464.56) scale(0.88 1)" font-family="Liberation Serif" font-weight="bold" font-size="4.1" fill="#151515" stroke="#151515" stroke-width="0.12">homologue</text>
<rect x="352.2" y="467.57" width="8.8" height="4.4" fill="#981a98"/>
<text x="356.6" y="471.87" font-family="Liberation Serif" font-weight="bold" font-size="6" text-anchor="middle" fill="#1a1a1a">18</text>
<text transform="translate(362.3 471.17) scale(0.88 1)" font-family="Liberation Serif" font-weight="bold" font-size="4.1" fill="#151515" stroke="#151515" stroke-width="0.12">P-loop containing NTP hydrolase pore-1</text>
<rect x="352.2" y="476.28" width="8.8" height="4.4" fill="#12127a"/>
<text x="356.6" y="480.58" font-family="Liberation Serif" font-weight="bold" font-size="6" text-anchor="middle" fill="#1a1a1a">19</text>
<text transform="translate(362.3 479.88) scale(0.88 1)" font-family="Liberation Serif" font-weight="bold" font-size="4.1" fill="#151515" stroke="#151515" stroke-width="0.12">SAP domain</text>
<rect x="352.2" y="484.99" width="8.8" height="4.4" fill="#b86020"/>
<text x="356.6" y="489.29" font-family="Liberation Serif" font-weight="bold" font-size="6" text-anchor="middle" fill="#1a1a1a">20</text>
<text transform="translate(362.3 488.59) scale(0.88 1)" font-family="Liberation Serif" font-weight="bold" font-size="4.1" fill="#151515" stroke="#151515" stroke-width="0.12">Homeobox domain</text>
<rect x="352.2" y="493.70" width="8.8" height="4.4" fill="#3090ff"/>
<text x="356.6" y="498.00" font-family="Liberation Serif" font-weight="bold" font-size="6" text-anchor="middle" fill="#1a1a1a">21</text>
<text transform="translate(362.3 497.30) scale(0.88 1)" font-family="Liberation Serif" font-weight="bold" font-size="4.1" fill="#151515" stroke="#151515" stroke-width="0.12">Jas domain</text>
<rect x="352.2" y="502.41" width="8.8" height="4.4" fill="#f8c8f8"/>
<text x="356.6" y="506.71" font-family="Liberation Serif" font-weight="bold" font-size="6" text-anchor="middle" fill="#1a1a1a">22</text>
<text transform="translate(362.3 506.01) scale(0.88 1)" font-family="Liberation Serif" font-weight="bold" font-size="4.1" fill="#151515" stroke="#151515" stroke-width="0.12">Type III restriction enzyme, res subunit</text>
<rect x="352.2" y="511.12" width="8.8" height="4.4" fill="#ffffc4"/>
<text x="356.6" y="515.42" font-family="Liberation Serif" font-weight="bold" font-size="6" text-anchor="middle" fill="#1a1a1a">23</text>
<text transform="translate(362.3 514.72) scale(0.88 1)" font-family="Liberation Serif" font-weight="bold" font-size="4.1" fill="#151515" stroke="#151515" stroke-width="0.12">Chromo domain</text>
<rect x="352.2" y="519.83" width="8.8" height="4.4" fill="#ffc8c8"/>
<text x="356.6" y="524.13" font-family="Liberation Serif" font-weight="bold" font-size="6" text-anchor="middle" fill="#1a1a1a">24</text>
<text transform="translate(362.3 523.43) scale(0.88 1)" font-family="Liberation Serif" font-weight="bold" font-size="4.1" fill="#151515" stroke="#151515" stroke-width="0.12">DUF1087</text>
<rect x="352.2" y="528.54" width="8.8" height="4.4" fill="#8080ff"/>
<text x="356.6" y="532.84" font-family="Liberation Serif" font-weight="bold" font-size="6" text-anchor="middle" fill="#1a1a1a">25</text>
<text transform="translate(362.3 532.14) scale(0.88 1)" font-family="Liberation Serif" font-weight="bold" font-size="4.1" fill="#151515" stroke="#151515" stroke-width="0.12">F/Y-rich N-terminus</text>
<rect x="352.2" y="537.25" width="8.8" height="4.4" fill="#90ee90"/>
<text x="356.6" y="541.55" font-family="Liberation Serif" font-weight="bold" font-size="6" text-anchor="middle" fill="#1a1a1a">26</text>
<text transform="translate(362.3 540.85) scale(0.88 1)" font-family="Liberation Serif" font-weight="bold" font-size="4.1" fill="#151515" stroke="#151515" stroke-width="0.12">F/Y-rich C-terminus</text>
</svg></body></html>
